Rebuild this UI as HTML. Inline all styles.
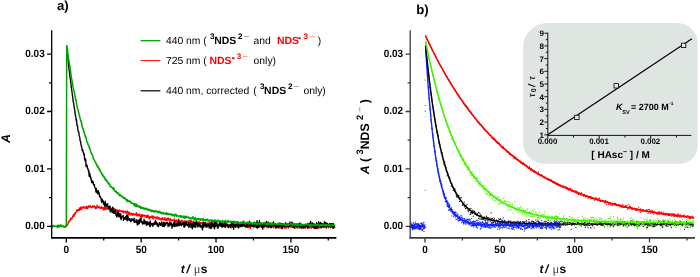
<!DOCTYPE html>
<html lang="en"><head><meta charset="utf-8"><title>Figure</title>
<style>
html,body{margin:0;padding:0;background:#fff;}
svg{display:block;}
text{font-family:"Liberation Sans",Arial,sans-serif;text-rendering:geometricPrecision;}
.b{font-weight:bold;}
.i{font-style:italic;}
.sym{font-family:"Liberation Serif","DejaVu Serif",serif;}
</style></head><body>
<svg width="700" height="277" viewBox="0 0 700 277">
<rect width="700" height="277" fill="#fff"/>
<g id="plot-a">
<path d="M66.3 226.3L66.6 225.5L66.9 225.5L67.2 225.6L67.5 224.7L67.8 224.6L68.1 223.1L68.4 221.4L68.7 222.6L69.0 222.2L69.3 220.7L69.6 220.3L69.9 220.0L70.2 220.5L70.5 219.1L70.8 218.0L71.1 219.4L71.4 218.2L71.7 219.1L72.0 218.1L72.3 218.2L72.6 216.3L72.9 216.8L73.2 215.0L73.5 214.7L73.8 214.6L74.1 216.4L74.4 214.2L74.7 213.3L75.0 212.8L75.3 214.0L75.6 212.6L75.9 212.8L76.2 212.3L76.5 210.2L76.8 211.7L77.1 210.7L77.4 209.6L77.7 210.7L78.0 210.0L78.3 209.6L78.6 209.5L78.9 210.5L79.2 209.2L79.5 207.9L79.8 210.4L80.1 208.0L80.4 208.6L80.7 209.1L81.0 206.6L81.3 207.6L81.6 209.3L81.9 208.0L82.2 207.5L82.5 208.1L82.8 207.2L83.1 207.8L83.4 207.0L83.7 206.3L84.0 208.1L84.3 207.3L84.6 207.9L84.9 207.3L85.2 208.4L85.5 207.8L85.8 207.4L86.1 206.4L86.4 206.1L86.7 208.3L87.0 207.8L87.3 206.5L87.6 208.9L87.9 207.4L88.2 207.0L88.5 205.8L88.8 206.3L89.1 207.2L89.4 207.2L89.7 207.1L90.0 205.4L90.3 207.2L90.6 207.1L90.9 206.5L91.2 206.9L91.4 207.0L91.7 207.8L92.0 206.8L92.3 207.2L92.6 205.7L92.9 206.2L93.2 206.8L93.5 206.2L93.8 207.2L94.1 205.9L94.4 206.9L94.7 206.4L95.0 208.1L95.3 206.6L95.6 208.5L95.9 208.8L96.2 207.3L96.5 207.9L96.8 206.9L97.1 205.0L97.4 207.9L97.7 207.7L98.0 207.0L98.3 206.7L98.6 207.4L98.9 207.5L99.2 206.7L99.5 206.9L99.8 208.3L100.1 207.5L100.4 207.4L100.7 208.4L101.0 207.3L101.3 208.3L101.6 206.7L101.9 207.4L102.2 207.6L102.5 208.2L102.8 207.8L103.1 209.6L103.4 208.8L103.7 207.5L104.0 209.8L104.3 207.1L104.6 209.6L104.9 207.3L105.2 208.8L105.5 207.4L105.8 208.0L106.1 209.6L106.4 207.1L106.7 206.9L107.0 208.4L107.3 208.6L107.6 208.5L107.9 209.3L108.2 207.5L108.5 209.0L108.8 208.7L109.1 209.4L109.4 209.3L109.7 210.0L110.0 207.7L110.3 209.0L110.6 208.1L110.9 209.0L111.2 209.7L111.5 209.4L111.8 209.7L112.1 209.3L112.4 209.7L112.7 209.7L113.0 210.7L113.3 210.3L113.6 208.1L113.9 210.3L114.2 210.7L114.5 209.5L114.8 208.6L115.1 211.3L115.4 210.2L115.7 210.7L116.0 211.8L116.3 209.6L116.6 210.3L116.9 210.3L117.2 211.2L117.5 210.1L117.8 211.1L118.1 210.8L118.4 211.8L118.7 211.9L119.0 209.7L119.3 211.4L119.6 210.8L119.9 211.1L120.2 211.6L120.5 211.7L120.8 210.8L121.1 211.7L121.4 211.6L121.7 211.5L122.0 210.5L122.3 211.1L122.6 211.4L122.9 212.3L123.2 213.2L123.5 211.1L123.8 211.1L124.1 212.2L124.4 211.7L124.7 211.5L125.0 211.5L125.3 211.5L125.6 212.8L125.9 211.1L126.2 213.7L126.5 211.8L126.8 212.2L127.1 211.9L127.4 211.0L127.7 211.5L128.0 213.9L128.3 214.5L128.6 212.2L128.9 214.0L129.2 213.1L129.5 212.4L129.8 214.7L130.1 215.2L130.4 213.1L130.7 213.4L131.0 213.7L131.3 213.5L131.6 214.4L131.9 215.0L132.2 213.8L132.5 214.6L132.8 215.3L133.1 213.4L133.4 214.0L133.7 213.6L134.0 214.9L134.3 214.7L134.6 215.1L134.9 215.0L135.2 214.1L135.5 215.0L135.8 214.0L136.1 214.1L136.4 212.6L136.7 215.8L137.0 213.8L137.3 214.7L137.6 214.7L137.9 216.1L138.2 215.2L138.5 214.2L138.8 215.0L139.1 214.9L139.4 215.3L139.7 214.0L140.0 215.2L140.3 217.2L140.6 215.9L140.9 217.1L141.2 218.4L141.4 215.9L141.7 214.3L142.0 215.5L142.3 216.7L142.6 216.5L142.9 214.7L143.2 215.6L143.5 215.8L143.8 215.9L144.1 215.9L144.4 215.2L144.7 215.5L145.0 215.9L145.3 217.1L145.6 215.7L145.9 216.9L146.2 215.3L146.5 217.5L146.8 216.5L147.1 216.4L147.4 217.7L147.7 215.0L148.0 215.3L148.3 217.1L148.6 216.0L148.9 216.4L149.2 219.2L149.5 216.6L149.8 217.0L150.1 216.9L150.4 218.0L150.7 217.3L151.0 217.3L151.3 216.1L151.6 216.9L151.9 217.3L152.2 215.9L152.5 217.9L152.8 217.8L153.1 219.2L153.4 216.1L153.7 216.7L154.0 216.8L154.3 217.1L154.6 217.6L154.9 217.6L155.2 218.1L155.5 218.1L155.8 217.9L156.1 216.6L156.4 217.5L156.7 218.2L157.0 218.7L157.3 218.8L157.6 216.8L157.9 217.8L158.2 218.3L158.5 218.7L158.8 219.5L159.1 218.6L159.4 217.7L159.7 218.9L160.0 218.8L160.3 218.9L160.6 218.6L160.9 220.2L161.2 219.0L161.5 219.6L161.8 218.1L162.1 219.7L162.4 218.5L162.7 217.6L163.0 219.4L163.3 219.7L163.6 219.0L163.9 219.2L164.2 220.2L164.5 218.9L164.8 217.5L165.1 219.6L165.4 219.6L165.7 220.4L166.0 219.2L166.3 220.7L166.6 220.6L166.9 218.4L167.2 220.5L167.5 218.7L167.8 218.3L168.1 219.5L168.4 219.3L168.7 218.0L169.0 220.0L169.3 220.4L169.6 221.2L169.9 219.9L170.2 218.6L170.5 219.1L170.8 220.9L171.1 220.9L171.4 220.6L171.7 219.9L172.0 220.4L172.3 220.0L172.6 220.0L172.9 220.6L173.2 220.4L173.5 220.2L173.8 220.5L174.1 220.0L174.4 218.8L174.7 220.0L175.0 220.5L175.3 222.1L175.6 220.3L175.9 222.4L176.2 222.0L176.5 219.9L176.8 220.1L177.1 220.9L177.4 222.4L177.7 221.2L178.0 221.5L178.3 220.3L178.6 218.9L178.9 220.8L179.2 221.7L179.5 222.1L179.8 221.1L180.1 221.3L180.4 222.2L180.7 221.1L181.0 222.2L181.3 220.2L181.6 220.3L181.9 220.3L182.2 221.7L182.5 220.9L182.8 221.5L183.1 221.8L183.4 221.7L183.7 222.7L184.0 222.8L184.3 220.8L184.6 221.7L184.9 221.4L185.2 220.7L185.5 223.2L185.8 222.4L186.1 221.5L186.4 221.4L186.7 222.1L187.0 220.8L187.3 221.6L187.6 223.0L187.9 222.7L188.2 221.2L188.5 221.5L188.8 223.7L189.1 220.7L189.4 221.5L189.7 220.8L190.0 222.4L190.3 222.4L190.6 223.2L190.9 219.8L191.1 222.3L191.4 220.7L191.7 222.8L192.0 222.1L192.3 223.8L192.6 222.7L192.9 221.4L193.2 223.5L193.5 221.4L193.8 222.1L194.1 223.4L194.4 222.9L194.7 222.9L195.0 222.6L195.3 223.0L195.6 223.3L195.9 222.9L196.2 223.6L196.5 223.8L196.8 222.7L197.1 221.9L197.4 224.1L197.7 222.7L198.0 223.4L198.3 223.7L198.6 222.0L198.9 223.3L199.2 221.5L199.5 223.6L199.8 222.5L200.1 223.1L200.4 223.6L200.7 222.4L201.0 223.1L201.3 222.5L201.6 223.1L201.9 224.1L202.2 223.2L202.5 223.1L202.8 222.2L203.1 224.0L203.4 223.2L203.7 224.8L204.0 222.6L204.3 224.2L204.6 224.9L204.9 223.3L205.2 222.3L205.5 224.7L205.8 224.3L206.1 224.0L206.4 224.4L206.7 223.1L207.0 224.2L207.3 224.1L207.6 222.9L207.9 224.2L208.2 223.1L208.5 224.4L208.8 224.7L209.1 225.2L209.4 221.9L209.7 223.9L210.0 223.4L210.3 223.7L210.6 223.5L210.9 223.6L211.2 221.9L211.5 224.7L211.8 225.2L212.1 224.7L212.4 225.0L212.7 223.1L213.0 223.1L213.3 224.7L213.6 225.1L213.9 224.2L214.2 222.6L214.5 226.5L214.8 223.4L215.1 224.9L215.4 223.0L215.7 225.0L216.0 224.3L216.3 225.4L216.6 224.9L216.9 222.8L217.2 223.3L217.5 224.5L217.8 224.9L218.1 225.9L218.4 224.5L218.7 224.2L219.0 224.3L219.3 224.3L219.6 225.3L219.9 224.3L220.2 224.3L220.5 223.1L220.8 222.6L221.1 224.5L221.4 225.1L221.7 224.4L222.0 225.0L222.3 225.1L222.6 224.5L222.9 225.4L223.2 223.9L223.5 224.6L223.8 224.3L224.1 224.7L224.4 225.2L224.7 225.5L225.0 224.8L225.3 225.1L225.6 224.4L225.9 224.7L226.2 225.9L226.5 224.6L226.8 226.0L227.1 225.3L227.4 225.0L227.7 226.7L228.0 224.7L228.3 224.7L228.6 225.0L228.9 225.3L229.2 225.2L229.5 225.8L229.8 225.2L230.1 225.4L230.4 224.9L230.7 226.1L231.0 224.8L231.3 224.9L231.6 225.2L231.9 225.4L232.2 224.5L232.5 226.6L232.8 224.7L233.1 224.9L233.4 224.9L233.7 224.8L234.0 225.8L234.3 225.4L234.6 224.6L234.9 224.8L235.2 225.0L235.5 226.6L235.8 224.8L236.1 224.2L236.4 224.4L236.7 225.1L237.0 226.7L237.3 224.5L237.6 225.5L237.9 227.7L238.2 225.0L238.5 226.8L238.8 226.6L239.1 226.0L239.4 224.3L239.7 225.8L240.0 225.2L240.3 223.9L240.6 224.0L240.9 225.6L241.1 225.8L241.4 226.7L241.7 226.2L242.0 225.2L242.3 225.2L242.6 225.5L242.9 224.7L243.2 226.4L243.5 225.7L243.8 225.0L244.1 225.2L244.4 224.7L244.7 225.4L245.0 226.0L245.3 225.4L245.6 226.7L245.9 227.3L246.2 225.3L246.5 225.9L246.8 225.5L247.1 227.4L247.4 226.2L247.7 226.4L248.0 226.7L248.3 228.0L248.6 226.2L248.9 225.1L249.2 225.6L249.5 226.5L249.8 226.0L250.1 225.3L250.4 228.5L250.7 226.1L251.0 225.5L251.3 225.4L251.6 224.5L251.9 225.0L252.2 225.8L252.5 225.8L252.8 225.4L253.1 226.6L253.4 226.1L253.7 225.3L254.0 224.3L254.3 226.3L254.6 226.2L254.9 226.0L255.2 224.9L255.5 226.2L255.8 224.8L256.1 227.1L256.4 226.4L256.7 226.4L257.0 225.5L257.3 225.3L257.6 227.6L257.9 227.1L258.2 225.9L258.5 226.9L258.8 227.7L259.1 225.3L259.4 225.8L259.7 225.8L260.0 226.7L260.3 225.3L260.6 226.5L260.9 225.3L261.2 227.1L261.5 227.1L261.8 226.1L262.1 227.0L262.4 225.7L262.7 226.1L263.0 227.2L263.3 226.3L263.6 226.7L263.9 225.5L264.2 226.9L264.5 226.8L264.8 225.2L265.1 224.3L265.4 224.5L265.7 226.3L266.0 226.2L266.3 225.0L266.6 226.5L266.9 227.3L267.2 226.3L267.5 226.0L267.8 227.2L268.1 227.9L268.4 227.7L268.7 225.8L269.0 227.1L269.3 226.5L269.6 226.2L269.9 225.8L270.2 226.7L270.5 226.0L270.8 227.2L271.1 226.8L271.4 227.4L271.7 225.4L272.0 226.5L272.3 227.1L272.6 226.8L272.9 226.7L273.2 225.8L273.5 227.9L273.8 227.4L274.1 226.8L274.4 224.1L274.7 225.6L275.0 226.6L275.3 225.8L275.6 224.6L275.9 226.7L276.2 226.8L276.5 225.4L276.8 226.0L277.1 225.9L277.4 227.0L277.7 224.7L278.0 224.9L278.3 226.0L278.6 225.9L278.9 228.4L279.2 225.9L279.5 226.7L279.8 226.1L280.1 225.9L280.4 226.8L280.7 228.1L281.0 226.2L281.3 227.2L281.6 226.8L281.9 227.1L282.2 226.9L282.5 228.7L282.8 225.4L283.1 226.3L283.4 225.5L283.7 224.7L284.0 226.5L284.3 228.2L284.6 227.4L284.9 227.7L285.2 227.0L285.5 226.5L285.8 228.4L286.1 226.3L286.4 228.0L286.7 226.3L287.0 226.7L287.3 226.9L287.6 226.6L287.9 227.1L288.2 227.1L288.5 228.1L288.8 226.6L289.1 224.9L289.4 224.8L289.7 225.4L290.0 225.9L290.3 227.2L290.6 225.3L290.9 226.7L291.1 226.7L291.4 226.9L291.7 226.5L292.0 227.0L292.3 226.7L292.6 227.6L292.9 227.0L293.2 224.5L293.5 226.7L293.8 226.8L294.1 226.1L294.4 226.0L294.7 227.7L295.0 226.8L295.3 225.8L295.6 226.4L295.9 226.5L296.2 225.2L296.5 227.3L296.8 226.6L297.1 227.1L297.4 225.3L297.7 228.4L298.0 227.3L298.3 227.1L298.6 226.0L298.9 226.1L299.2 225.4L299.5 228.1L299.8 226.0L300.1 226.9L300.4 227.3L300.7 226.2L301.0 227.5L301.3 228.6L301.6 227.0L301.9 228.0L302.2 227.3L302.5 226.3L302.8 226.4L303.1 225.2L303.4 226.9L303.7 228.1L304.0 227.4L304.3 227.5L304.6 227.8L304.9 226.3L305.2 227.3L305.5 228.5L305.8 226.1L306.1 226.8L306.4 226.4L306.7 226.6L307.0 226.1L307.3 226.7L307.6 225.6L307.9 226.3L308.2 226.3L308.5 226.3L308.8 228.0L309.1 226.9L309.4 227.0L309.7 226.5L310.0 228.0L310.3 225.2L310.6 226.6L310.9 227.8L311.2 228.3L311.5 227.0L311.8 226.8L312.1 227.4L312.4 226.6L312.7 227.3L313.0 226.2L313.3 227.4L313.6 226.8L313.9 225.8L314.2 224.4L314.5 227.7L314.8 227.2L315.1 227.5L315.4 226.0L315.7 227.8L316.0 227.2L316.3 226.8L316.6 227.7L316.9 227.6L317.2 227.2L317.5 228.7L317.8 228.1L318.1 227.1L318.4 226.6L318.7 226.9L319.0 228.4L319.3 227.2L319.6 226.0L319.9 226.3L320.2 226.8L320.5 227.6L320.8 226.2L321.1 227.3L321.4 227.9L321.7 227.5L322.0 225.5L322.3 226.6L322.6 225.7L322.9 227.2L323.2 225.9L323.5 227.3L323.8 226.9L324.1 224.5L324.4 226.1L324.7 227.3L325.0 226.9L325.3 226.5L325.6 225.7L325.9 227.3L326.2 228.4L326.5 227.1L326.8 226.8L327.1 226.7L327.4 225.6L327.7 226.5L328.0 226.1L328.3 227.8L328.6 226.0L328.9 224.9L329.2 226.1L329.5 226.6L329.8 226.7L330.1 225.2L330.4 227.7L330.7 226.9L331.0 226.4L331.3 226.2L331.6 227.2L331.9 226.6L332.2 227.1L332.5 226.7L332.8 227.0L333.1 227.9L333.4 226.9L333.7 226.1L334.0 227.7L334.3 227.1L334.6 226.3L334.9 227.8" fill="none" stroke="#ff0000" stroke-width="1.25" stroke-linejoin="round"/>
<path d="M66.9 49.6L67.2 52.6L67.5 55.1L67.8 57.7L68.1 60.5L68.4 63.5L68.7 65.9L69.0 68.6L69.3 71.2L69.6 73.3L69.9 76.6L70.2 78.2L70.5 81.0L70.8 82.8L71.1 85.5L71.4 88.2L71.7 90.0L72.0 92.0L72.3 94.5L72.6 96.3L72.9 99.0L73.2 102.0L73.5 102.2L73.8 104.3L74.1 106.6L74.4 108.6L74.7 109.8L75.0 112.7L75.3 114.8L75.6 116.2L75.9 116.9L76.2 120.7L76.5 119.3L76.8 123.5L77.1 125.6L77.4 125.1L77.7 128.0L78.0 130.7L78.3 131.4L78.6 131.6L78.9 132.8L79.2 136.0L79.5 136.5L79.8 137.6L80.1 140.6L80.4 140.8L80.7 142.6L81.0 144.6L81.3 145.9L81.6 146.5L81.9 147.8L82.2 150.6L82.5 150.9L82.8 150.0L83.1 152.4L83.4 152.6L83.7 153.3L84.0 155.3L84.3 153.9L84.6 159.7L84.9 158.3L85.2 161.1L85.5 158.9L85.8 160.1L86.1 166.6L86.4 166.1L86.7 164.7L87.0 165.4L87.3 166.5L87.6 168.6L87.9 168.8L88.2 169.4L88.5 171.3L88.8 170.6L89.1 176.3L89.4 172.9L89.7 176.2L90.0 174.0L90.3 176.6L90.6 178.4L90.9 177.3L91.2 180.0L91.4 180.7L91.7 182.5L92.0 180.9L92.3 180.8L92.6 180.8L92.9 183.2L93.2 182.1L93.5 184.3L93.8 185.1L94.1 184.8L94.4 184.7L94.7 187.4L95.0 187.9L95.3 188.4L95.6 188.6L95.9 192.0L96.2 188.4L96.5 191.1L96.8 190.4L97.1 192.9L97.4 191.6L97.7 192.1L98.0 193.9L98.3 190.7L98.6 193.7L98.9 192.1L99.2 193.8L99.5 196.7L99.8 196.8L100.1 196.1L100.4 197.1L100.7 197.5L101.0 198.5L101.3 201.2L101.6 199.3L101.9 202.7L102.2 199.2L102.5 201.3L102.8 201.7L103.1 201.3L103.4 201.0L103.7 203.9L104.0 204.8L104.3 204.1L104.6 206.0L104.9 204.7L105.2 201.2L105.5 205.5L105.8 203.3L106.1 206.7L106.4 204.5L106.7 205.8L107.0 205.7L107.3 205.1L107.6 203.6L107.9 206.3L108.2 206.7L108.5 208.6L108.8 206.6L109.1 208.1L109.4 206.8L109.7 208.4L110.0 206.0L110.3 211.8L110.6 209.6L110.9 208.1L111.2 210.2L111.5 211.1L111.8 210.5L112.1 212.4L112.4 210.4L112.7 207.2L113.0 209.4L113.3 213.0L113.6 212.9L113.9 213.0L114.2 210.5L114.5 213.4L114.8 213.4L115.1 211.3L115.4 210.2L115.7 213.6L116.0 214.9L116.3 215.7L116.6 214.6L116.9 217.1L117.2 212.9L117.5 215.1L117.8 213.6L118.1 211.7L118.4 212.9L118.7 216.6L119.0 213.7L119.3 213.5L119.6 216.5L119.9 216.9L120.2 215.8L120.5 218.2L120.8 213.8L121.1 219.7L121.4 217.9L121.7 216.8L122.0 216.9L122.3 216.4L122.6 216.4L122.9 217.3L123.2 215.4L123.5 220.4L123.8 217.4L124.1 218.6L124.4 217.4L124.7 217.4L125.0 219.2L125.3 218.9L125.6 216.9L125.9 217.7L126.2 219.3L126.5 215.4L126.8 215.1L127.1 220.8L127.4 218.3L127.7 215.1L128.0 216.6L128.3 218.7L128.6 219.5L128.9 220.1L129.2 219.7L129.5 220.3L129.8 218.4L130.1 220.2L130.4 221.0L130.7 221.6L131.0 220.0L131.3 221.3L131.6 220.3L131.9 218.6L132.2 219.7L132.5 219.6L132.8 219.9L133.1 220.3L133.4 220.7L133.7 221.1L134.0 218.4L134.3 222.4L134.6 218.8L134.9 220.9L135.2 222.1L135.5 221.8L135.8 222.1L136.1 220.9L136.4 222.3L136.7 219.6L137.0 222.5L137.3 224.8L137.6 222.6L137.9 224.5L138.2 221.7L138.5 220.1L138.8 220.8L139.1 223.8L139.4 223.0L139.7 219.2L140.0 221.5L140.3 222.0L140.6 220.5L140.9 218.4L141.2 220.2L141.4 222.0L141.7 221.7L142.0 221.4L142.3 223.2L142.6 224.0L142.9 222.3L143.2 223.9L143.5 222.6L143.8 222.4L144.1 219.1L144.4 223.9L144.7 222.9L145.0 223.0L145.3 222.1L145.6 221.2L145.9 223.6L146.2 224.1L146.5 225.4L146.8 224.3L147.1 221.4L147.4 222.9L147.7 224.6L148.0 223.6L148.3 223.1L148.6 222.4L148.9 224.1L149.2 223.6L149.5 226.0L149.8 225.0L150.1 220.9L150.4 226.6L150.7 223.9L151.0 223.1L151.3 224.0L151.6 224.7L151.9 223.6L152.2 223.5L152.5 223.7L152.8 226.4L153.1 223.8L153.4 224.9L153.7 224.5L154.0 223.3L154.3 222.7L154.6 222.4L154.9 224.5L155.2 222.4L155.5 220.3L155.8 222.1L156.1 221.8L156.4 224.1L156.7 224.1L157.0 222.7L157.3 225.9L157.6 223.6L157.9 224.7L158.2 224.5L158.5 226.6L158.8 225.3L159.1 224.1L159.4 222.7L159.7 222.6L160.0 224.2L160.3 224.4L160.6 225.4L160.9 223.5L161.2 224.5L161.5 223.3L161.8 221.6L162.1 224.2L162.4 226.4L162.7 225.5L163.0 226.4L163.3 226.0L163.6 222.3L163.9 223.9L164.2 226.6L164.5 223.3L164.8 222.4L165.1 224.9L165.4 225.4L165.7 224.9L166.0 224.0L166.3 223.4L166.6 222.6L166.9 222.6L167.2 222.7L167.5 222.4L167.8 223.5L168.1 226.7L168.4 224.7L168.7 224.0L169.0 225.1L169.3 223.1L169.6 225.1L169.9 225.9L170.2 222.4L170.5 223.6L170.8 224.2L171.1 223.2L171.4 223.0L171.7 224.1L172.0 228.3L172.3 225.6L172.6 225.3L172.9 226.1L173.2 224.3L173.5 222.9L173.8 225.4L174.1 226.3L174.4 221.6L174.7 225.3L175.0 226.5L175.3 224.3L175.6 224.1L175.9 225.8L176.2 223.5L176.5 225.4L176.8 226.1L177.1 224.5L177.4 223.6L177.7 225.7L178.0 224.3L178.3 224.9L178.6 220.5L178.9 225.8L179.2 222.7L179.5 224.9L179.8 225.0L180.1 222.6L180.4 223.5L180.7 222.9L181.0 224.3L181.3 225.7L181.6 225.6L181.9 224.1L182.2 224.0L182.5 222.8L182.8 224.2L183.1 223.3L183.4 222.6L183.7 224.6L184.0 227.1L184.3 226.6L184.6 227.0L184.9 222.5L185.2 226.1L185.5 223.0L185.8 224.0L186.1 222.3L186.4 223.4L186.7 225.1L187.0 225.2L187.3 224.8L187.6 224.7L187.9 225.7L188.2 225.0L188.5 222.5L188.8 227.5L189.1 224.2L189.4 226.3L189.7 224.7L190.0 223.7L190.3 225.0L190.6 223.8L190.9 227.3L191.1 223.3L191.4 225.9L191.7 224.0L192.0 224.7L192.3 228.8L192.6 226.1L192.9 224.6L193.2 222.7L193.5 224.6L193.8 224.6L194.1 227.1L194.4 222.9L194.7 222.3L195.0 225.0L195.3 225.3L195.6 227.4L195.9 223.7L196.2 221.0L196.5 223.9L196.8 223.1L197.1 224.2L197.4 226.5L197.7 223.0L198.0 226.9L198.3 225.3L198.6 224.6L198.9 223.7L199.2 224.4L199.5 223.9L199.8 226.2L200.1 227.0L200.4 224.9L200.7 226.1L201.0 227.0L201.3 226.9L201.6 225.8L201.9 227.8L202.2 227.1L202.5 229.9L202.8 224.8L203.1 224.4L203.4 222.1L203.7 227.3L204.0 226.1L204.3 223.7L204.6 225.4L204.9 225.5L205.2 222.5L205.5 225.6L205.8 226.8L206.1 227.0L206.4 224.6L206.7 224.6L207.0 227.1L207.3 226.5L207.6 224.3L207.9 224.2L208.2 226.0L208.5 224.1L208.8 224.2L209.1 227.7L209.4 225.5L209.7 224.5L210.0 225.9L210.3 228.3L210.6 225.5L210.9 224.0L211.2 222.7L211.5 228.4L211.8 221.2L212.1 226.8L212.4 223.7L212.7 223.3L213.0 223.6L213.3 224.9L213.6 226.8L213.9 224.2L214.2 226.2L214.5 228.9L214.8 220.9L215.1 223.0L215.4 222.4L215.7 226.5L216.0 222.9L216.3 222.7L216.6 222.8L216.9 225.1L217.2 226.9L217.5 225.4L217.8 228.4L218.1 227.6L218.4 225.0L218.7 226.6L219.0 225.4L219.3 225.3L219.6 222.2L219.9 223.2L220.2 225.2L220.5 221.5L220.8 226.3L221.1 225.6L221.4 223.8L221.7 227.0L222.0 225.5L222.3 227.1L222.6 224.9L222.9 222.7L223.2 226.2L223.5 224.8L223.8 226.5L224.1 226.8L224.4 227.0L224.7 222.9L225.0 221.6L225.3 224.4L225.6 227.3L225.9 224.1L226.2 225.6L226.5 223.9L226.8 224.7L227.1 224.7L227.4 224.2L227.7 226.0L228.0 225.7L228.3 227.7L228.6 225.8L228.9 227.2L229.2 225.3L229.5 226.6L229.8 225.0L230.1 224.5L230.4 227.2L230.7 226.3L231.0 227.9L231.3 224.0L231.6 222.6L231.9 223.9L232.2 225.7L232.5 222.9L232.8 227.4L233.1 222.9L233.4 226.1L233.7 229.3L234.0 221.2L234.3 222.8L234.6 226.7L234.9 224.9L235.2 225.5L235.5 225.0L235.8 227.3L236.1 226.2L236.4 224.4L236.7 224.8L237.0 221.6L237.3 225.0L237.6 221.6L237.9 226.2L238.2 224.8L238.5 228.0L238.8 227.0L239.1 223.2L239.4 226.5L239.7 224.3L240.0 225.2L240.3 226.7L240.6 225.7L240.9 225.9L241.1 225.9L241.4 224.0L241.7 224.2L242.0 226.0L242.3 226.5L242.6 224.7L242.9 225.3L243.2 223.6L243.5 221.2L243.8 223.9L244.1 225.2L244.4 225.4L244.7 226.4L245.0 226.5L245.3 226.6L245.6 225.7L245.9 225.8L246.2 224.0L246.5 225.7L246.8 225.4L247.1 227.0L247.4 222.7L247.7 224.4L248.0 222.5L248.3 224.0L248.6 222.9L248.9 225.5L249.2 224.1L249.5 221.1L249.8 227.0L250.1 223.4L250.4 222.6L250.7 224.5L251.0 224.0L251.3 223.2L251.6 226.1L251.9 224.5L252.2 226.5L252.5 226.2L252.8 226.1L253.1 225.4L253.4 224.9L253.7 224.5L254.0 227.3L254.3 222.1L254.6 223.4L254.9 224.0L255.2 225.7L255.5 225.3L255.8 224.3L256.1 224.5L256.4 227.7L256.7 224.0L257.0 220.7L257.3 228.0L257.6 223.6L257.9 224.6L258.2 225.5L258.5 223.0L258.8 227.0L259.1 224.9L259.4 220.7L259.7 225.4L260.0 225.8L260.3 225.0L260.6 225.8L260.9 222.8L261.2 226.5L261.5 223.8L261.8 227.1L262.1 224.1L262.4 225.3L262.7 229.1L263.0 225.2L263.3 226.8L263.6 225.8L263.9 222.8L264.2 226.9L264.5 226.8L264.8 222.9L265.1 225.0L265.4 222.8L265.7 224.7L266.0 226.5L266.3 225.3L266.6 221.4L266.9 223.7L267.2 225.1L267.5 225.1L267.8 225.3L268.1 226.0L268.4 222.2L268.7 225.1L269.0 226.9L269.3 225.9L269.6 224.0L269.9 224.2L270.2 225.4L270.5 227.2L270.8 225.1L271.1 227.7L271.4 227.1L271.7 223.9L272.0 225.9L272.3 224.6L272.6 223.3L272.9 224.2L273.2 225.1L273.5 221.9L273.8 224.1L274.1 225.7L274.4 224.0L274.7 224.5L275.0 226.5L275.3 225.0L275.6 225.4L275.9 228.2L276.2 225.7L276.5 225.6L276.8 225.8L277.1 227.7L277.4 225.7L277.7 225.2L278.0 225.0L278.3 226.9L278.6 224.2L278.9 227.0L279.2 225.5L279.5 223.1L279.8 226.2L280.1 225.9L280.4 223.5L280.7 225.7L281.0 225.6L281.3 224.5L281.6 223.5L281.9 228.5L282.2 226.4L282.5 226.7L282.8 226.8L283.1 226.5L283.4 226.4L283.7 224.7L284.0 226.5L284.3 225.0L284.6 224.5L284.9 226.3L285.2 225.0L285.5 222.6L285.8 224.7L286.1 226.1L286.4 225.3L286.7 226.6L287.0 224.7L287.3 223.8L287.6 226.4L287.9 225.5L288.2 223.5L288.5 225.9L288.8 224.9L289.1 226.7L289.4 226.4L289.7 225.9L290.0 221.9L290.3 225.8L290.6 225.9L290.9 226.0L291.1 225.4L291.4 224.2L291.7 224.9L292.0 222.1L292.3 224.8L292.6 223.0L292.9 224.7L293.2 224.2L293.5 227.3L293.8 225.3L294.1 225.3L294.4 225.5L294.7 228.4L295.0 223.8L295.3 225.7L295.6 225.8L295.9 225.5L296.2 225.5L296.5 224.5L296.8 227.0L297.1 226.5L297.4 224.7L297.7 224.9L298.0 225.7L298.3 226.0L298.6 226.4L298.9 225.2L299.2 223.4L299.5 226.7L299.8 222.9L300.1 223.9L300.4 225.8L300.7 224.0L301.0 227.3L301.3 227.7L301.6 227.1L301.9 225.8L302.2 225.6L302.5 225.9L302.8 225.0L303.1 228.3L303.4 224.4L303.7 227.3L304.0 226.1L304.3 225.8L304.6 226.9L304.9 227.2L305.2 226.7L305.5 225.2L305.8 224.3L306.1 224.3L306.4 226.6L306.7 226.3L307.0 226.5L307.3 224.5L307.6 228.2L307.9 223.3L308.2 225.9L308.5 227.5L308.8 224.6L309.1 223.6L309.4 224.6L309.7 223.6L310.0 225.0L310.3 223.3L310.6 221.4L310.9 225.3L311.2 223.0L311.5 224.9L311.8 225.0L312.1 226.5L312.4 225.6L312.7 222.8L313.0 227.1L313.3 224.2L313.6 224.1L313.9 224.7L314.2 228.4L314.5 225.3L314.8 224.2L315.1 226.3L315.4 225.0L315.7 228.7L316.0 224.1L316.3 226.1L316.6 222.6L316.9 227.9L317.2 224.1L317.5 225.5L317.8 223.9L318.1 226.5L318.4 226.1L318.7 221.8L319.0 226.4L319.3 226.2L319.6 226.0L319.9 226.7L320.2 223.4L320.5 222.6L320.8 226.2L321.1 227.7L321.4 223.4L321.7 223.5L322.0 223.9L322.3 223.4L322.6 226.4L322.9 225.4L323.2 227.2L323.5 227.3L323.8 223.7L324.1 226.2L324.4 221.7L324.7 225.0L325.0 226.1L325.3 224.0L325.6 222.5L325.9 224.4L326.2 227.0L326.5 224.6L326.8 223.1L327.1 225.9L327.4 226.3L327.7 223.6L328.0 224.9L328.3 226.8L328.6 225.7L328.9 226.3L329.2 224.7L329.5 225.0L329.8 223.4L330.1 224.1L330.4 227.5L330.7 224.5L331.0 223.8L331.3 224.5L331.6 223.6L331.9 226.0L332.2 226.6L332.5 223.8L332.8 226.7L333.1 228.4L333.4 223.6L333.7 226.2L334.0 225.6L334.3 227.2L334.6 227.1L334.9 226.9" fill="none" stroke="#000" stroke-width="1.35" stroke-linejoin="round"/>
<path d="M51.3 226.2L51.6 225.5L51.9 226.4L52.2 226.5L52.5 227.1L52.8 226.6L53.1 225.5L53.4 226.1L53.7 225.9L54.0 225.9L54.3 226.3L54.6 226.4L54.9 226.2L55.2 225.9L55.5 226.0L55.8 226.0L56.1 226.2L56.4 226.7L56.7 226.5L57.0 226.8L57.3 225.7L57.6 227.5L57.9 226.4L58.2 224.9L58.5 226.5L58.8 227.0L59.1 226.3L59.4 225.6L59.7 226.4L60.0 225.9L60.3 226.2L60.6 226.5L60.9 224.5L61.2 226.3L61.5 226.6L61.8 226.6L62.1 226.1L62.4 226.1L62.7 225.9L63.0 226.2L63.3 227.1L63.6 226.0L63.9 226.5L64.2 226.5L64.5 227.2L64.8 226.6L65.1 226.7L65.4 226.3L65.7 227.1L66.0 226.3L66.3 226.2L66.7 46.1L66.9 45.6L67.2 47.8L67.5 50.2L67.8 53.6L68.1 54.7L68.4 57.7L68.7 59.7L69.0 61.0L69.3 63.6L69.6 65.0L69.9 65.8L70.2 69.0L70.5 70.9L70.8 73.6L71.1 75.3L71.4 77.4L71.7 78.8L72.0 80.8L72.3 82.3L72.6 83.8L72.9 85.8L73.2 87.7L73.5 89.2L73.8 89.9L74.1 91.6L74.4 92.6L74.7 94.1L75.0 96.3L75.3 97.3L75.6 99.8L75.9 99.3L76.2 101.2L76.5 103.3L76.8 105.2L77.1 105.7L77.4 108.2L77.7 108.9L78.0 109.4L78.3 111.0L78.6 112.5L78.9 113.0L79.2 115.2L79.5 115.7L79.8 117.3L80.1 118.6L80.4 119.1L80.7 121.0L81.0 120.6L81.3 122.9L81.6 122.7L81.9 125.4L82.2 125.5L82.5 127.5L82.8 128.6L83.1 128.9L83.4 129.6L83.7 131.6L84.0 131.3L84.3 133.3L84.6 133.8L84.9 134.6L85.2 135.4L85.5 137.6L85.8 136.7L86.1 138.2L86.4 139.6L86.7 140.8L87.0 142.0L87.3 142.7L87.6 142.6L87.9 143.9L88.2 145.1L88.5 145.6L88.8 145.3L89.1 147.1L89.4 148.1L89.7 147.8L90.0 149.1L90.3 150.1L90.6 151.2L90.9 152.4L91.2 152.9L91.4 153.3L91.7 153.9L92.0 154.3L92.3 154.9L92.6 155.8L92.9 156.5L93.2 157.8L93.5 159.1L93.8 158.9L94.1 159.8L94.4 160.2L94.7 160.7L95.0 161.8L95.3 162.4L95.6 162.5L95.9 163.0L96.2 164.0L96.5 164.0L96.8 165.0L97.1 166.0L97.4 166.0L97.7 165.6L98.0 167.5L98.3 167.1L98.6 167.5L98.9 168.0L99.2 169.8L99.5 168.8L99.8 170.3L100.1 171.0L100.4 171.5L100.7 171.6L101.0 172.4L101.3 173.0L101.6 172.8L101.9 174.3L102.2 174.9L102.5 174.4L102.8 175.0L103.1 175.2L103.4 176.8L103.7 176.1L104.0 176.9L104.3 176.7L104.6 178.7L104.9 178.3L105.2 179.0L105.5 180.1L105.8 180.1L106.1 179.5L106.4 180.8L106.7 181.3L107.0 180.9L107.3 181.2L107.6 181.6L107.9 182.9L108.2 182.9L108.5 182.7L108.8 184.0L109.1 184.4L109.4 184.0L109.7 183.9L110.0 185.7L110.3 186.8L110.6 186.6L110.9 186.7L111.2 186.6L111.5 186.5L111.8 187.2L112.1 187.9L112.4 187.8L112.7 188.7L113.0 188.5L113.3 189.1L113.6 187.7L113.9 189.0L114.2 190.2L114.5 190.6L114.8 190.6L115.1 191.5L115.4 191.3L115.7 191.6L116.0 191.1L116.3 192.0L116.6 192.5L116.9 193.1L117.2 193.2L117.5 192.9L117.8 193.3L118.1 192.9L118.4 194.0L118.7 193.4L119.0 194.1L119.3 194.5L119.6 195.8L119.9 195.6L120.2 194.8L120.5 194.8L120.8 195.6L121.1 195.6L121.4 196.4L121.7 196.6L122.0 197.0L122.3 196.4L122.6 196.9L122.9 197.4L123.2 197.7L123.5 197.5L123.8 197.8L124.1 198.6L124.4 197.5L124.7 198.5L125.0 198.8L125.3 198.3L125.6 198.7L125.9 199.5L126.2 199.3L126.5 200.4L126.8 200.3L127.1 201.4L127.4 199.7L127.7 201.5L128.0 200.4L128.3 201.4L128.6 201.6L128.9 201.4L129.2 201.3L129.5 201.3L129.8 200.9L130.1 201.8L130.4 201.7L130.7 202.7L131.0 202.2L131.3 202.6L131.6 203.1L131.9 203.1L132.2 203.2L132.5 203.3L132.8 203.3L133.1 204.0L133.4 204.2L133.7 203.6L134.0 205.0L134.3 204.6L134.6 203.7L134.9 206.0L135.2 205.1L135.5 204.6L135.8 205.9L136.1 203.9L136.4 206.7L136.7 204.7L137.0 204.8L137.3 205.3L137.6 206.0L137.9 205.9L138.2 206.6L138.5 205.9L138.8 207.0L139.1 206.7L139.4 206.2L139.7 207.4L140.0 207.1L140.3 207.0L140.6 207.9L140.9 206.7L141.2 207.3L141.4 208.3L141.7 207.7L142.0 208.2L142.3 208.2L142.6 208.0L142.9 208.5L143.2 207.7L143.5 208.7L143.8 207.9L144.1 208.6L144.4 208.2L144.7 209.0L145.0 209.1L145.3 209.5L145.6 208.7L145.9 208.6L146.2 208.1L146.5 208.6L146.8 209.3L147.1 209.6L147.4 209.4L147.7 209.7L148.0 209.0L148.3 209.3L148.6 210.3L148.9 210.3L149.2 209.4L149.5 210.0L149.8 210.3L150.1 209.7L150.4 210.6L150.7 210.6L151.0 210.7L151.3 211.6L151.6 210.2L151.9 211.3L152.2 211.1L152.5 211.2L152.8 210.5L153.1 211.0L153.4 211.0L153.7 212.0L154.0 211.2L154.3 212.0L154.6 211.1L154.9 211.1L155.2 211.4L155.5 210.4L155.8 211.2L156.1 211.3L156.4 211.6L156.7 211.8L157.0 211.2L157.3 211.2L157.6 212.5L157.9 211.4L158.2 211.7L158.5 211.5L158.8 211.8L159.1 212.8L159.4 212.8L159.7 211.3L160.0 212.2L160.3 213.1L160.6 212.2L160.9 212.7L161.2 213.5L161.5 213.8L161.8 213.5L162.1 212.6L162.4 212.8L162.7 213.0L163.0 212.7L163.3 212.6L163.6 214.1L163.9 213.2L164.2 213.5L164.5 213.8L164.8 213.5L165.1 213.4L165.4 213.5L165.7 214.2L166.0 213.7L166.3 212.5L166.6 214.2L166.9 214.5L167.2 213.6L167.5 213.5L167.8 213.6L168.1 214.5L168.4 213.5L168.7 214.5L169.0 214.7L169.3 214.5L169.6 214.3L169.9 213.9L170.2 214.0L170.5 214.4L170.8 214.0L171.1 214.5L171.4 214.1L171.7 215.4L172.0 215.5L172.3 214.4L172.6 215.6L172.9 215.1L173.2 215.0L173.5 215.3L173.8 215.3L174.1 214.4L174.4 216.5L174.7 214.8L175.0 214.2L175.3 215.4L175.6 215.5L175.9 215.1L176.2 214.6L176.5 216.2L176.8 215.6L177.1 215.8L177.4 215.5L177.7 215.8L178.0 215.6L178.3 216.2L178.6 216.0L178.9 216.4L179.2 216.5L179.5 216.3L179.8 216.3L180.1 216.9L180.4 215.6L180.7 216.5L181.0 217.2L181.3 216.0L181.6 217.0L181.9 216.4L182.2 216.7L182.5 216.6L182.8 216.7L183.1 217.2L183.4 216.9L183.7 215.9L184.0 218.2L184.3 217.1L184.6 216.9L184.9 217.7L185.2 218.0L185.5 216.2L185.8 217.5L186.1 216.3L186.4 217.2L186.7 217.5L187.0 217.3L187.3 217.3L187.6 217.0L187.9 217.5L188.2 217.7L188.5 217.7L188.8 217.1L189.1 217.5L189.4 218.5L189.7 218.3L190.0 217.9L190.3 218.4L190.6 218.3L190.9 218.7L191.1 218.3L191.4 218.0L191.7 217.8L192.0 218.3L192.3 217.3L192.6 218.5L192.9 216.8L193.2 218.0L193.5 218.3L193.8 218.9L194.1 220.1L194.4 218.8L194.7 218.6L195.0 217.8L195.3 219.5L195.6 217.9L195.9 219.0L196.2 218.5L196.5 220.3L196.8 218.9L197.1 219.2L197.4 218.7L197.7 219.1L198.0 219.7L198.3 218.7L198.6 218.9L198.9 219.0L199.2 218.8L199.5 218.8L199.8 219.4L200.1 220.1L200.4 220.2L200.7 218.8L201.0 219.1L201.3 219.5L201.6 219.8L201.9 219.6L202.2 219.6L202.5 219.8L202.8 220.1L203.1 218.6L203.4 219.7L203.7 220.1L204.0 220.5L204.3 220.2L204.6 219.5L204.9 219.5L205.2 220.1L205.5 220.0L205.8 220.2L206.1 220.6L206.4 219.4L206.7 219.9L207.0 218.9L207.3 220.6L207.6 220.3L207.9 219.8L208.2 220.4L208.5 221.0L208.8 220.8L209.1 220.3L209.4 220.2L209.7 220.5L210.0 219.9L210.3 220.0L210.6 220.3L210.9 220.5L211.2 220.7L211.5 220.3L211.8 220.1L212.1 220.6L212.4 220.4L212.7 220.9L213.0 221.5L213.3 221.3L213.6 220.4L213.9 220.6L214.2 220.0L214.5 220.8L214.8 220.4L215.1 220.2L215.4 220.4L215.7 221.3L216.0 221.1L216.3 220.9L216.6 221.5L216.9 220.8L217.2 220.6L217.5 221.4L217.8 220.1L218.1 221.3L218.4 221.3L218.7 221.3L219.0 221.6L219.3 221.0L219.6 221.3L219.9 220.4L220.2 221.0L220.5 221.1L220.8 221.5L221.1 222.1L221.4 221.5L221.7 221.9L222.0 221.0L222.3 221.5L222.6 220.6L222.9 221.2L223.2 221.1L223.5 221.5L223.8 221.5L224.1 221.3L224.4 221.2L224.7 222.0L225.0 221.4L225.3 220.4L225.6 221.8L225.9 221.9L226.2 222.1L226.5 222.5L226.8 221.2L227.1 221.8L227.4 221.7L227.7 220.9L228.0 220.6L228.3 222.4L228.6 221.4L228.9 221.6L229.2 221.8L229.5 221.7L229.8 222.0L230.1 221.2L230.4 221.7L230.7 221.9L231.0 221.4L231.3 221.6L231.6 221.9L231.9 222.0L232.2 221.3L232.5 221.9L232.8 222.3L233.1 222.7L233.4 222.4L233.7 222.8L234.0 222.2L234.3 222.2L234.6 223.4L234.9 222.3L235.2 222.0L235.5 222.3L235.8 222.9L236.1 221.8L236.4 222.8L236.7 223.1L237.0 223.0L237.3 222.5L237.6 222.0L237.9 221.9L238.2 222.4L238.5 223.2L238.8 222.9L239.1 223.0L239.4 222.7L239.7 223.5L240.0 222.6L240.3 222.3L240.6 222.7L240.9 222.4L241.1 223.2L241.4 223.5L241.7 223.1L242.0 222.1L242.3 222.2L242.6 223.0L242.9 222.2L243.2 223.0L243.5 222.0L243.8 222.6L244.1 223.1L244.4 222.5L244.7 223.3L245.0 223.4L245.3 223.7L245.6 222.8L245.9 223.0L246.2 223.0L246.5 223.2L246.8 222.2L247.1 223.2L247.4 223.4L247.7 222.4L248.0 222.3L248.3 222.9L248.6 224.0L248.9 223.4L249.2 222.8L249.5 223.1L249.8 222.3L250.1 223.8L250.4 222.8L250.7 223.5L251.0 222.5L251.3 223.2L251.6 222.7L251.9 223.6L252.2 224.0L252.5 223.8L252.8 223.6L253.1 223.8L253.4 222.7L253.7 222.6L254.0 223.2L254.3 223.9L254.6 223.4L254.9 223.7L255.2 222.6L255.5 223.2L255.8 223.1L256.1 223.6L256.4 224.4L256.7 223.8L257.0 224.0L257.3 223.3L257.6 223.4L257.9 223.9L258.2 223.7L258.5 222.7L258.8 224.0L259.1 224.0L259.4 223.6L259.7 223.9L260.0 223.8L260.3 223.3L260.6 222.7L260.9 224.5L261.2 223.6L261.5 223.6L261.8 223.7L262.1 223.7L262.4 223.8L262.7 223.1L263.0 223.9L263.3 223.7L263.6 223.7L263.9 223.6L264.2 223.8L264.5 223.2L264.8 223.7L265.1 223.6L265.4 223.8L265.7 224.3L266.0 224.2L266.3 224.3L266.6 223.7L266.9 224.2L267.2 224.4L267.5 223.7L267.8 223.6L268.1 224.8L268.4 223.0L268.7 223.8L269.0 223.9L269.3 223.3L269.6 223.9L269.9 224.2L270.2 222.8L270.5 224.5L270.8 224.0L271.1 223.5L271.4 224.5L271.7 224.0L272.0 223.8L272.3 222.7L272.6 224.4L272.9 224.0L273.2 223.7L273.5 224.0L273.8 224.6L274.1 223.8L274.4 224.0L274.7 223.8L275.0 223.5L275.3 223.5L275.6 223.9L275.9 223.9L276.2 224.7L276.5 224.2L276.8 224.0L277.1 224.3L277.4 224.1L277.7 224.6L278.0 223.4L278.3 223.0L278.6 224.4L278.9 224.0L279.2 224.3L279.5 223.5L279.8 224.0L280.1 224.2L280.4 224.3L280.7 224.2L281.0 224.7L281.3 223.9L281.6 224.6L281.9 224.0L282.2 224.2L282.5 223.7L282.8 224.3L283.1 223.8L283.4 224.8L283.7 224.0L284.0 224.4L284.3 224.2L284.6 224.3L284.9 223.8L285.2 225.4L285.5 224.2L285.8 225.1L286.1 223.7L286.4 225.4L286.7 224.9L287.0 225.2L287.3 223.5L287.6 225.1L287.9 224.3L288.2 224.7L288.5 225.3L288.8 224.6L289.1 224.1L289.4 224.5L289.7 224.0L290.0 224.6L290.3 224.4L290.6 224.7L290.9 224.3L291.1 223.5L291.4 224.3L291.7 224.4L292.0 224.8L292.3 224.9L292.6 223.7L292.9 225.1L293.2 225.0L293.5 224.6L293.8 224.7L294.1 223.5L294.4 225.8L294.7 224.4L295.0 224.2L295.3 225.1L295.6 224.9L295.9 224.3L296.2 223.7L296.5 225.1L296.8 225.4L297.1 224.1L297.4 223.8L297.7 224.8L298.0 225.8L298.3 223.9L298.6 224.7L298.9 224.0L299.2 224.7L299.5 224.8L299.8 224.9L300.1 223.9L300.4 223.9L300.7 225.8L301.0 225.1L301.3 223.7L301.6 224.9L301.9 225.4L302.2 224.7L302.5 224.7L302.8 224.7L303.1 224.9L303.4 224.9L303.7 224.9L304.0 224.5L304.3 225.1L304.6 224.9L304.9 224.8L305.2 224.1L305.5 224.5L305.8 224.8L306.1 224.5L306.4 224.5L306.7 224.2L307.0 224.5L307.3 223.8L307.6 224.1L307.9 224.8L308.2 225.0L308.5 224.3L308.8 224.5L309.1 224.8L309.4 225.6L309.7 225.8L310.0 224.6L310.3 224.4L310.6 224.4L310.9 225.5L311.2 224.3L311.5 225.1L311.8 224.6L312.1 224.6L312.4 225.3L312.7 225.2L313.0 225.9L313.3 225.3L313.6 225.8L313.9 224.6L314.2 224.8L314.5 224.4L314.8 224.7L315.1 225.2L315.4 224.7L315.7 225.1L316.0 224.6L316.3 224.7L316.6 225.4L316.9 224.9L317.2 224.9L317.5 225.1L317.8 224.5L318.1 224.0L318.4 225.1L318.7 225.1L319.0 226.1L319.3 225.0L319.6 225.2L319.9 226.1L320.2 224.8L320.5 224.7L320.8 225.3L321.1 225.2L321.4 225.5L321.7 224.6L322.0 225.8L322.3 225.1L322.6 224.0L322.9 225.0L323.2 224.8L323.5 225.1L323.8 225.6L324.1 225.0L324.4 224.8L324.7 225.5L325.0 224.8L325.3 224.4L325.6 224.5L325.9 225.8L326.2 225.5L326.5 225.9L326.8 224.5L327.1 224.7L327.4 224.7L327.7 225.5L328.0 225.7L328.3 225.0L328.6 225.0L328.9 225.5L329.2 225.0L329.5 224.7L329.8 225.0L330.1 225.6L330.4 226.2L330.7 225.2L331.0 225.0L331.3 225.2L331.6 225.3L331.9 225.5L332.2 224.7L332.5 225.1L332.8 225.1L333.1 225.6L333.4 225.4L333.7 225.0L334.0 225.6L334.3 225.8L334.6 225.3L334.9 224.5" fill="none" stroke="#00a000" stroke-width="1.5" stroke-linejoin="round"/>
<path d="M51.050000000000004 237.9H336.4" stroke="#000" stroke-width="1.7"/>
<path d="M51.7 30.3V238.5M47.1 226.3H51.7M47.1 168.9H51.7M47.1 111.5H51.7M47.1 54.1H51.7M49.1 197.6H51.7M49.1 140.2H51.7M49.1 82.8H51.7M66.3 237.9v4.6M141.2 237.9v4.6M216.0 237.9v4.6M290.9 237.9v4.6M103.7 237.9v2.6M178.6 237.9v2.6M253.4 237.9v2.6M328.3 237.9v2.6" fill="none" stroke="#000" stroke-width="1.3"/>
<text class="b" transform="translate(44.7 229.0) scale(.95 1)" font-size="10.5" text-anchor="end">0.00</text>
<text class="b" transform="translate(44.7 171.6) scale(.95 1)" font-size="10.5" text-anchor="end">0.01</text>
<text class="b" transform="translate(44.7 114.2) scale(.95 1)" font-size="10.5" text-anchor="end">0.02</text>
<text class="b" transform="translate(44.7 56.8) scale(.95 1)" font-size="10.5" text-anchor="end">0.03</text>
<text class="b" transform="translate(66.3 252.8) scale(.95 1)" font-size="10.5" text-anchor="middle">0</text>
<text class="b" transform="translate(141.2 252.8) scale(.95 1)" font-size="10.5" text-anchor="middle">50</text>
<text class="b" transform="translate(216.0 252.8) scale(.95 1)" font-size="10.5" text-anchor="middle">100</text>
<text class="b" transform="translate(290.9 252.8) scale(.95 1)" font-size="10.5" text-anchor="middle">150</text>
<text class="b" x="57" y="9.7" font-size="13.2">a)</text>
<text class="b i" transform="translate(10.2 138.6) rotate(-90)" font-size="12.4" text-anchor="middle">A</text>
<text y="272.6" font-size="12" class="b"><tspan class="i" x="180.8">t</tspan><tspan class="i" x="186.4">/</tspan><tspan class="sym" x="193.8" font-weight="normal" font-size="12.5" fill="#444">μ</tspan><tspan x="200.7">s</tspan></text>
<path d="M140.6 40.7H160.4" stroke="#00a000" stroke-width="1.3"/>
<path d="M140.6 60.6H160.4" stroke="#ff0000" stroke-width="1"/>
<path d="M140.6 90.8H160.4" stroke="#000" stroke-width="1.2"/>
<text font-size="10.35" x="165.9" y="43.9">440 nm ( <tspan x="210.0" y="39.2" font-size="8.1" fill="#000" fill-opacity="1" font-weight="bold">3</tspan><tspan x="214.2" y="43.9" class="b" font-size="10.45">NDS</tspan><tspan x="237.9" y="39.2" font-size="8.1" fill="#000" fill-opacity="1" font-weight="bold">2</tspan><tspan x="243.7" y="39.8" font-size="10" fill="#000" fill-opacity="0.5" font-weight="normal">−</tspan><tspan x="253.6" y="43.9">and</tspan><tspan x="276.9" y="43.9" class="b" font-size="10.45" fill="#ff0000">NDS</tspan><tspan x="298.0" y="41.3" font-size="8.5" fill="#ff0000" fill-opacity="1" font-weight="bold">•</tspan><tspan x="303.5" y="39.2" font-size="8.1" fill="#ff0000" fill-opacity="1" font-weight="bold">3</tspan><tspan x="309.3" y="39.8" font-size="10" fill="#ff0000" fill-opacity="0.5" font-weight="normal">−</tspan><tspan x="317.7" y="43.9">)</tspan></text>
<text font-size="10.35" x="165.9" y="63.8">725 nm ( <tspan x="209.5" y="63.8" class="b" font-size="10.45" fill="#ff0000">NDS</tspan><tspan x="231.7" y="61.2" font-size="8.5" fill="#ff0000" fill-opacity="1" font-weight="bold">•</tspan><tspan x="236.7" y="59.1" font-size="8.1" fill="#ff0000" fill-opacity="1" font-weight="bold">3</tspan><tspan x="242.29999999999998" y="59.7" font-size="10" fill="#ff0000" fill-opacity="0.5" font-weight="normal">−</tspan><tspan x="253.6" y="63.8">only)</tspan></text>
<text font-size="10.35" x="165.9" y="93.6">440 nm, corrected<tspan dx="3.9">(</tspan><tspan x="259.9" y="88.9" font-size="8.1" fill="#000" fill-opacity="1" font-weight="bold">3</tspan><tspan x="264.1" y="93.6" class="b" font-size="10.45">NDS</tspan><tspan x="288.0" y="88.9" font-size="8.1" fill="#000" fill-opacity="1" font-weight="bold">2</tspan><tspan x="293.5" y="89.5" font-size="10" fill="#000" fill-opacity="0.5" font-weight="normal">−</tspan><tspan x="303.4" y="93.6">only)</tspan></text>
</g>
<g id="plot-b">
<path d="M410.0 227.1h.01M410.5 224.5h.01M411.1 225.4h.01M411.6 225.5h.01M412.1 224.5h.01M412.6 228.4h.01M413.1 225.9h.01M413.6 227.6h.01M414.2 224.3h.01M414.7 224.7h.01M415.2 228.4h.01M415.7 223.7h.01M416.2 228.7h.01M416.7 224.0h.01M417.3 226.0h.01M417.8 228.1h.01M418.3 228.6h.01M418.8 227.0h.01M419.3 226.4h.01M419.8 227.8h.01M420.4 225.2h.01M420.9 229.1h.01M421.4 226.4h.01M421.9 226.4h.01M422.4 230.1h.01M422.9 225.7h.01M423.5 228.9h.01M424.0 231.3h.01M424.5 227.6h.01M425.0 226.8h.01" fill="none" stroke="#000" stroke-width="1.15" stroke-linecap="round" opacity="0.9"/>
<path d="M419.0 224.6h.01M419.9 227.3h.01M420.7 223.4h.01M421.6 223.5h.01M422.4 224.2h.01M423.3 223.7h.01M424.1 225.7h.01M425.0 227.5h.01" fill="none" stroke="#ff0000" stroke-width="1.15" stroke-linecap="round" opacity="0.9"/>
<path d="M425.7 47.7h.01M426.1 50.3h.01M426.4 52.2h.01M426.8 56.5h.01M427.1 59.7h.01M427.4 64.3h.01M427.8 66.4h.01M428.1 70.2h.01M428.4 71.8h.01M428.8 75.4h.01M429.1 78.1h.01M429.4 80.9h.01M429.8 84.0h.01M430.1 87.4h.01M430.4 88.5h.01M430.8 92.6h.01M431.1 95.0h.01M431.4 96.8h.01M431.8 99.5h.01M432.1 101.2h.01M432.5 102.9h.01M432.8 105.8h.01M433.1 108.1h.01M433.5 110.5h.01M433.8 111.9h.01M434.1 116.3h.01M434.5 116.6h.01M434.8 119.7h.01M435.1 122.0h.01M435.5 122.9h.01M435.8 125.2h.01M436.1 126.2h.01M436.5 127.6h.01M436.8 132.5h.01M437.1 132.3h.01M437.5 132.2h.01M437.8 134.9h.01M438.2 136.0h.01M438.5 138.9h.01M438.8 142.0h.01M439.2 143.4h.01M439.5 143.1h.01M439.8 144.4h.01M440.2 147.6h.01M440.5 148.6h.01M440.8 149.5h.01M441.2 153.0h.01M441.5 153.0h.01M441.8 152.3h.01M442.2 153.0h.01M442.5 156.7h.01M442.8 156.0h.01M443.2 159.7h.01M443.5 161.3h.01M443.8 164.1h.01M444.2 161.8h.01M444.5 164.4h.01M444.9 162.5h.01M445.2 165.9h.01M445.5 167.2h.01M445.9 170.5h.01M446.2 167.8h.01M446.5 171.0h.01M446.9 171.8h.01M447.2 175.2h.01M447.5 172.5h.01M447.9 173.4h.01M448.2 176.2h.01M448.5 176.3h.01M448.9 176.9h.01M449.2 177.1h.01M449.5 179.0h.01M449.9 177.8h.01M450.2 181.1h.01M450.6 182.4h.01M450.9 183.0h.01M451.2 186.5h.01M451.6 185.1h.01M451.9 183.5h.01M452.2 185.2h.01M452.6 187.4h.01M452.9 186.5h.01M453.2 190.4h.01M453.6 188.8h.01M453.9 188.4h.01M454.2 188.8h.01M454.6 191.5h.01M454.9 189.8h.01M455.2 189.1h.01M455.6 192.9h.01M455.9 191.9h.01M456.3 195.7h.01M456.6 196.9h.01M456.9 193.8h.01M457.3 195.2h.01M457.6 195.5h.01M457.9 197.2h.01M458.3 197.3h.01M458.6 196.2h.01M458.9 195.4h.01M459.3 198.7h.01M459.6 201.4h.01M459.9 197.4h.01M460.3 198.9h.01M460.6 199.3h.01M460.9 200.5h.01M461.3 197.6h.01M461.6 201.5h.01M461.9 201.3h.01M462.3 205.4h.01M462.6 203.8h.01M463.0 204.4h.01M463.3 203.8h.01M463.6 203.5h.01M464.0 205.7h.01M464.3 202.1h.01M464.6 207.0h.01M465.0 206.3h.01M465.3 205.5h.01M465.6 208.4h.01M466.0 205.7h.01M466.3 205.9h.01M466.6 207.8h.01M467.0 204.4h.01M467.3 207.8h.01M467.6 207.8h.01M468.0 210.2h.01M468.3 211.7h.01M468.7 210.2h.01M469.0 210.0h.01M469.3 210.5h.01M469.7 208.6h.01M470.0 214.4h.01M470.3 212.5h.01M470.7 213.9h.01M471.0 208.7h.01M471.3 212.2h.01M471.7 212.4h.01M472.0 213.7h.01M472.3 210.4h.01M472.7 212.9h.01M473.0 212.1h.01M473.3 216.2h.01M473.7 210.9h.01M474.0 212.4h.01M474.4 212.4h.01M474.7 211.4h.01M475.0 214.1h.01M475.4 214.2h.01M475.7 212.9h.01M476.0 213.6h.01M476.4 214.9h.01M476.7 214.6h.01M477.0 215.7h.01M477.4 213.8h.01M477.7 213.6h.01M478.0 215.4h.01M478.4 212.3h.01M478.7 218.4h.01M479.0 216.3h.01M479.4 213.1h.01M479.7 216.9h.01M480.0 219.1h.01M480.4 214.1h.01M480.7 215.7h.01M481.1 218.8h.01M481.4 215.6h.01M481.7 218.8h.01M482.1 219.5h.01M482.4 217.6h.01M482.7 218.3h.01M483.1 219.5h.01M483.4 218.3h.01M483.7 219.5h.01M484.1 217.8h.01M484.4 218.1h.01M484.7 216.9h.01M485.1 219.1h.01M485.4 220.7h.01M485.7 220.8h.01M486.1 219.0h.01M486.4 216.1h.01M486.8 217.3h.01M487.1 220.0h.01M487.4 217.4h.01M487.8 221.1h.01M488.1 217.5h.01M488.4 220.0h.01M488.8 218.1h.01M489.1 218.4h.01M489.4 220.0h.01M489.8 219.1h.01M490.1 221.6h.01M490.4 219.9h.01M490.8 218.0h.01M491.1 212.9h.01M491.4 218.8h.01M491.8 220.0h.01M492.1 222.0h.01M492.5 218.5h.01M492.8 223.2h.01M493.1 221.8h.01M493.5 219.9h.01M493.8 222.6h.01M494.1 218.0h.01M494.5 218.8h.01M494.8 221.7h.01M495.1 221.8h.01M495.5 223.2h.01M495.8 223.4h.01M496.1 220.2h.01M496.5 220.0h.01M496.8 220.5h.01M497.1 220.7h.01M497.5 222.2h.01M497.8 220.7h.01M498.1 223.9h.01M498.5 221.4h.01M498.8 218.9h.01M499.2 219.2h.01M499.5 222.3h.01M499.8 222.2h.01M500.2 219.3h.01M500.5 218.6h.01M500.8 224.3h.01M501.2 222.5h.01M501.5 221.4h.01M501.8 219.8h.01M502.2 223.4h.01M502.5 220.8h.01M502.8 222.5h.01M503.2 217.9h.01M503.5 221.3h.01M503.8 222.3h.01M504.2 222.7h.01M504.5 220.4h.01M504.9 221.0h.01M505.2 224.1h.01M505.5 221.9h.01M505.9 224.6h.01M506.2 223.7h.01M506.5 224.6h.01M506.9 224.7h.01M507.2 223.6h.01M507.5 224.2h.01M507.9 221.6h.01M508.2 221.2h.01M508.5 223.0h.01M508.9 224.5h.01M509.2 221.2h.01M509.5 226.2h.01M509.9 226.0h.01M510.2 221.5h.01M510.6 221.6h.01M510.9 221.1h.01M511.2 223.2h.01M511.6 225.0h.01M511.9 223.7h.01M512.2 221.9h.01M512.6 224.2h.01M512.9 224.1h.01M513.2 225.3h.01M513.6 225.0h.01M513.9 221.5h.01M514.2 222.2h.01M514.6 225.0h.01M514.9 224.9h.01M515.2 224.0h.01M515.6 222.1h.01M515.9 225.1h.01M516.2 223.4h.01M516.6 226.8h.01M516.9 225.3h.01M517.3 222.4h.01M517.6 221.6h.01M517.9 225.2h.01M518.3 224.6h.01M518.6 221.9h.01M518.9 223.9h.01M519.3 224.2h.01M519.6 222.4h.01M519.9 223.0h.01M520.3 221.4h.01M520.6 222.0h.01M520.9 224.3h.01M521.3 223.6h.01M521.6 223.5h.01M521.9 225.7h.01M522.3 225.1h.01M522.6 221.7h.01M523.0 226.2h.01M523.3 221.7h.01M523.6 223.0h.01M524.0 223.7h.01M524.3 222.5h.01M524.6 222.7h.01M525.0 221.4h.01M525.3 224.2h.01M525.6 223.9h.01M526.0 224.0h.01M526.3 220.3h.01M526.6 221.9h.01M527.0 225.2h.01M527.3 224.1h.01M527.6 224.8h.01M528.0 223.6h.01M528.3 223.2h.01M528.7 219.6h.01M529.0 226.8h.01M529.3 221.8h.01M529.7 222.9h.01M530.0 224.8h.01M530.3 223.9h.01M530.7 224.5h.01M531.0 223.6h.01M531.3 221.9h.01M531.7 226.3h.01M532.0 221.4h.01M532.3 224.3h.01M532.7 221.1h.01M533.0 223.0h.01M533.3 221.6h.01M533.7 222.7h.01M534.0 221.8h.01M534.3 223.6h.01M534.7 225.2h.01M535.0 222.6h.01M535.4 222.5h.01M535.7 220.1h.01M536.0 227.2h.01M536.4 224.1h.01M536.7 221.9h.01M537.0 225.9h.01M537.4 224.2h.01M537.7 220.1h.01M538.0 221.3h.01M538.4 225.3h.01M538.7 221.3h.01M539.0 221.8h.01M539.4 222.5h.01M539.7 223.2h.01M540.0 223.4h.01M540.4 225.3h.01M540.7 224.7h.01M541.1 222.6h.01M541.4 223.6h.01M541.7 220.6h.01M542.1 224.4h.01M542.4 228.0h.01M542.7 224.4h.01M543.1 223.4h.01M543.4 223.2h.01M543.7 223.7h.01M544.1 225.3h.01M544.4 221.3h.01M544.7 225.0h.01M545.1 222.6h.01M545.4 224.4h.01M545.7 225.9h.01M546.1 221.4h.01M546.4 228.2h.01M546.8 225.4h.01M547.1 223.1h.01M547.4 224.5h.01M547.8 222.6h.01M548.1 224.1h.01M548.4 224.7h.01M548.8 220.2h.01M549.1 224.3h.01M549.4 224.2h.01M549.8 225.8h.01M550.1 225.2h.01M550.4 222.8h.01M550.8 222.9h.01M551.1 223.9h.01M551.4 225.1h.01M551.8 222.7h.01M552.1 226.9h.01M552.4 224.5h.01M552.8 224.4h.01M553.1 225.4h.01M553.5 223.7h.01M553.8 225.1h.01M554.1 225.3h.01M554.5 220.8h.01M554.8 222.7h.01M555.1 221.9h.01M555.5 223.8h.01M555.8 222.3h.01M556.1 222.6h.01M556.5 221.8h.01M556.8 219.9h.01M557.1 224.3h.01M557.5 223.5h.01M557.8 224.0h.01M558.1 230.0h.01M558.5 226.3h.01M558.8 223.9h.01M559.2 222.8h.01M559.5 224.9h.01M559.8 222.0h.01M560.2 221.7h.01M560.5 224.7h.01M560.8 221.5h.01M561.2 220.9h.01M561.5 223.1h.01M561.8 225.6h.01M562.2 221.4h.01M562.5 224.2h.01M562.8 224.6h.01M563.2 223.7h.01M563.5 224.9h.01M563.8 222.1h.01M564.2 222.6h.01M564.5 221.8h.01M564.9 222.9h.01M565.2 225.3h.01M565.5 224.2h.01M565.9 222.4h.01M566.2 224.7h.01M566.5 218.9h.01M566.9 224.4h.01M567.2 225.0h.01M567.5 222.0h.01M567.9 222.7h.01M568.2 224.0h.01M568.5 224.4h.01M568.9 223.2h.01M569.2 222.5h.01M569.5 222.6h.01M569.9 224.5h.01M570.2 223.2h.01M570.5 222.5h.01M570.9 222.6h.01M571.2 229.3h.01M571.6 225.5h.01M571.9 225.3h.01M572.2 224.4h.01M572.6 223.7h.01M572.9 222.4h.01M573.2 222.9h.01M573.6 224.2h.01M573.9 223.9h.01M574.2 220.9h.01M574.6 225.0h.01M574.9 223.4h.01M575.2 221.3h.01M575.6 223.4h.01M575.9 227.5h.01M576.2 223.3h.01M576.6 224.6h.01M576.9 224.2h.01M577.3 222.2h.01M577.6 223.2h.01M577.9 224.4h.01M578.3 222.4h.01M578.6 223.2h.01M578.9 223.8h.01M579.3 223.5h.01M579.6 223.5h.01M579.9 224.6h.01M580.3 224.8h.01M580.6 223.9h.01M580.9 225.6h.01M581.3 226.1h.01M581.6 221.7h.01M581.9 224.4h.01M582.3 224.0h.01M582.6 224.2h.01M583.0 223.9h.01M583.3 223.9h.01M583.6 223.9h.01M584.0 225.4h.01M584.3 222.4h.01M584.6 225.2h.01M585.0 222.2h.01M585.3 227.3h.01M585.6 225.8h.01M586.0 222.3h.01M586.3 224.2h.01M586.6 225.1h.01M587.0 223.3h.01M587.3 225.8h.01M587.6 223.9h.01M588.0 227.8h.01M588.3 224.8h.01M588.6 225.1h.01M589.0 223.1h.01M589.3 222.5h.01M589.7 225.5h.01M590.0 221.2h.01M590.3 225.0h.01M590.7 227.5h.01M591.0 228.1h.01M591.3 221.3h.01M591.7 224.1h.01M592.0 225.1h.01M592.3 225.3h.01M592.7 225.9h.01M593.0 221.7h.01M593.3 224.1h.01M593.7 220.9h.01M594.0 224.3h.01M594.3 228.0h.01M594.7 222.5h.01M595.0 224.6h.01M595.4 224.4h.01M595.7 221.3h.01M596.0 224.4h.01M596.4 222.0h.01M596.7 224.0h.01M597.0 225.3h.01M597.4 223.1h.01M597.7 225.0h.01M598.0 221.9h.01M598.4 222.3h.01M598.7 223.9h.01M599.0 222.9h.01M599.4 223.0h.01M599.7 224.5h.01M600.0 222.5h.01M600.4 224.4h.01M600.7 222.9h.01M601.1 225.6h.01M601.4 223.8h.01M601.7 223.3h.01M602.1 225.4h.01M602.4 224.7h.01M602.7 224.9h.01M603.1 222.7h.01M603.4 225.2h.01M603.7 223.2h.01M604.1 221.4h.01M604.4 223.4h.01M604.7 226.8h.01M605.1 223.8h.01M605.4 222.2h.01M605.7 224.5h.01M606.1 222.1h.01M606.4 222.9h.01M606.7 223.3h.01M607.1 224.4h.01M607.4 224.9h.01M607.8 224.4h.01M608.1 223.9h.01M608.4 223.1h.01M608.8 223.3h.01M609.1 224.5h.01M609.4 223.9h.01M609.8 223.3h.01M610.1 226.8h.01M610.4 225.3h.01M610.8 225.4h.01M611.1 224.3h.01M611.4 224.5h.01M611.8 224.4h.01M612.1 225.5h.01M612.4 222.8h.01M612.8 223.5h.01M613.1 226.8h.01M613.5 224.0h.01M613.8 225.9h.01M614.1 221.0h.01M614.5 224.8h.01M614.8 224.7h.01M615.1 223.8h.01M615.5 224.3h.01M615.8 224.1h.01M616.1 221.3h.01M616.5 223.6h.01M616.8 222.5h.01M617.1 222.0h.01M617.5 225.7h.01M617.8 221.1h.01M618.1 222.8h.01M618.5 222.3h.01M618.8 225.5h.01M619.2 222.6h.01M619.5 223.3h.01M619.8 224.9h.01M620.2 220.0h.01M620.5 223.0h.01M620.8 224.4h.01M621.2 223.6h.01M621.5 222.4h.01M621.8 222.0h.01M622.2 223.0h.01M622.5 221.9h.01M622.8 221.4h.01M623.2 226.1h.01M623.5 224.8h.01M623.8 225.6h.01M624.2 223.8h.01M624.5 221.5h.01M624.8 222.8h.01M625.2 225.8h.01M625.5 224.5h.01M625.9 222.2h.01M626.2 224.9h.01M626.5 224.1h.01M626.9 223.4h.01M627.2 227.1h.01M627.5 222.6h.01M627.9 223.4h.01M628.2 223.0h.01M628.5 225.7h.01M628.9 225.3h.01M629.2 225.0h.01M629.5 223.5h.01M629.9 223.8h.01M630.2 223.7h.01M630.5 220.9h.01M630.9 221.7h.01M631.2 225.2h.01M631.6 225.1h.01M631.9 221.0h.01M632.2 224.5h.01M632.6 221.6h.01M632.9 221.2h.01M633.2 224.9h.01M633.6 224.4h.01M633.9 223.8h.01M634.2 225.5h.01M634.6 225.7h.01M634.9 224.7h.01M635.2 222.5h.01M635.6 224.7h.01M635.9 224.3h.01M636.2 224.8h.01M636.6 226.3h.01M636.9 221.4h.01M637.3 228.0h.01M637.6 225.1h.01M637.9 223.0h.01M638.3 226.4h.01M638.6 222.9h.01M638.9 221.8h.01M639.3 225.4h.01M639.6 223.6h.01M639.9 225.9h.01M640.3 223.1h.01M640.6 223.8h.01M640.9 223.6h.01M641.3 221.6h.01M641.6 223.2h.01M641.9 221.7h.01M642.3 222.9h.01M642.6 226.0h.01M642.9 223.5h.01M643.3 223.1h.01M643.6 226.5h.01M644.0 221.7h.01M644.3 223.9h.01M644.6 223.3h.01M645.0 225.5h.01M645.3 223.8h.01M645.6 223.5h.01M646.0 224.5h.01M646.3 223.8h.01M646.6 227.6h.01M647.0 221.6h.01M647.3 225.9h.01M647.6 227.7h.01M648.0 225.6h.01M648.3 225.4h.01M648.6 223.0h.01M649.0 225.5h.01M649.3 223.5h.01M649.7 225.6h.01M650.0 220.2h.01M650.3 223.0h.01M650.7 220.6h.01M651.0 225.7h.01M651.3 222.8h.01M651.7 225.6h.01M652.0 223.0h.01M652.3 222.8h.01M652.7 226.7h.01M653.0 225.9h.01M653.3 226.0h.01M653.7 226.6h.01M654.0 225.2h.01M654.3 225.6h.01M654.7 226.5h.01M655.0 223.8h.01M655.4 223.0h.01M655.7 226.2h.01M656.0 224.9h.01M656.4 224.0h.01M656.7 224.4h.01M657.0 225.2h.01M657.4 222.6h.01M657.7 222.5h.01M658.0 222.8h.01M658.4 224.3h.01M658.7 220.6h.01M659.0 221.0h.01M659.4 224.7h.01M659.7 224.2h.01M660.0 221.9h.01M660.4 225.4h.01M660.7 223.3h.01M661.0 223.9h.01M661.4 225.2h.01M661.7 224.4h.01M662.1 226.7h.01M662.4 224.9h.01M662.7 227.4h.01M663.1 220.1h.01M663.4 221.4h.01M663.7 221.9h.01M664.1 223.5h.01M664.4 222.3h.01M664.7 221.8h.01M665.1 222.2h.01M665.4 222.4h.01M665.7 225.6h.01M666.1 223.3h.01M666.4 224.9h.01M666.7 226.0h.01M667.1 226.0h.01M667.4 223.3h.01M667.8 222.2h.01M668.1 226.3h.01M668.4 221.0h.01M668.8 221.5h.01M669.1 224.7h.01M669.4 224.8h.01M669.8 224.1h.01M670.1 222.3h.01M670.4 224.7h.01M670.8 225.9h.01M671.1 223.4h.01M671.4 227.6h.01M671.8 223.8h.01M672.1 222.0h.01M672.4 223.5h.01M672.8 222.7h.01M673.1 223.2h.01M673.5 222.7h.01M673.8 223.8h.01M674.1 225.4h.01M674.5 224.4h.01M674.8 224.1h.01M675.1 221.8h.01M675.5 221.2h.01M675.8 223.3h.01M676.1 225.3h.01M676.5 225.3h.01M676.8 224.3h.01M677.1 221.6h.01M677.5 223.4h.01M677.8 224.1h.01M678.1 225.3h.01M678.5 222.5h.01M678.8 223.5h.01M679.1 224.1h.01M679.5 223.8h.01M679.8 221.1h.01M680.2 224.3h.01M680.5 221.1h.01M680.8 221.9h.01M681.2 223.9h.01M681.5 222.5h.01M681.8 224.2h.01M682.2 225.4h.01M682.5 224.5h.01M682.8 225.6h.01M683.2 223.1h.01M683.5 224.0h.01M683.8 223.0h.01M684.2 222.6h.01M684.5 229.4h.01M684.8 223.5h.01M685.2 227.1h.01M685.5 223.7h.01M685.9 225.5h.01M686.2 223.8h.01M686.5 221.7h.01M686.9 226.9h.01M687.2 223.7h.01M687.5 224.1h.01M687.9 227.3h.01M688.2 222.9h.01M688.5 223.9h.01M688.9 224.9h.01M689.2 225.2h.01M689.5 218.5h.01M689.9 224.7h.01M690.2 227.1h.01M690.5 225.6h.01M690.9 224.6h.01M691.2 224.7h.01M691.6 224.1h.01M691.9 225.8h.01M692.2 223.1h.01M692.6 224.8h.01M692.9 226.3h.01M693.2 225.4h.01M693.6 224.7h.01" fill="none" stroke="#000" stroke-width="1.2" stroke-linecap="round" opacity="0.95"/>
<path d="M410.0 226.9h.01M410.1 226.9h.01M410.2 227.3h.01M410.4 226.1h.01M410.5 223.7h.01M410.6 226.6h.01M410.7 226.6h.01M410.8 227.0h.01M410.9 222.1h.01M411.0 223.6h.01M411.1 225.4h.01M411.2 225.2h.01M411.3 227.6h.01M411.4 226.6h.01M411.5 226.0h.01M411.6 226.2h.01M411.8 227.8h.01M411.9 227.7h.01M412.0 225.5h.01M412.1 225.8h.01M412.2 229.9h.01M412.3 226.2h.01M412.4 224.2h.01M412.5 227.4h.01M412.6 225.9h.01M412.7 228.8h.01M412.8 224.9h.01M412.9 228.2h.01M413.0 228.5h.01M413.2 226.9h.01M413.3 222.3h.01M413.4 227.4h.01M413.5 228.5h.01M413.6 225.6h.01M413.7 226.0h.01M413.8 223.6h.01M413.9 228.5h.01M414.0 229.0h.01M414.1 226.9h.01M414.2 225.7h.01M414.3 225.7h.01M414.4 224.5h.01M414.6 228.9h.01M414.7 227.7h.01M414.8 226.6h.01M414.9 224.9h.01M415.0 225.5h.01M415.1 227.1h.01M415.2 228.1h.01M415.3 224.9h.01M415.4 224.7h.01M415.5 221.8h.01M415.6 226.7h.01M415.7 223.6h.01M415.8 228.4h.01M416.0 227.3h.01M416.1 227.5h.01M416.2 227.1h.01M416.3 227.8h.01M416.4 227.3h.01M416.5 226.4h.01M416.6 227.1h.01M416.7 225.2h.01M416.8 226.5h.01M416.9 226.4h.01M417.0 223.9h.01M417.1 225.8h.01M417.2 226.1h.01M417.4 226.4h.01M417.5 226.2h.01M417.6 225.4h.01M417.7 227.7h.01M417.8 224.4h.01M417.9 223.7h.01M418.0 224.4h.01M418.1 227.2h.01M418.2 229.0h.01M418.3 227.1h.01M418.4 226.1h.01M418.5 225.0h.01M418.6 226.7h.01M418.8 226.9h.01M418.9 223.8h.01M419.0 227.5h.01M419.1 224.6h.01M419.2 224.8h.01M419.3 228.6h.01M419.4 225.9h.01M419.5 227.3h.01M419.6 228.0h.01M419.7 229.5h.01M419.8 229.0h.01M419.9 225.7h.01M420.0 227.0h.01M420.2 225.9h.01M420.3 228.1h.01M420.4 226.9h.01M420.5 226.8h.01M420.6 229.0h.01M420.7 229.2h.01M420.8 225.6h.01M420.9 226.1h.01M421.0 227.9h.01M421.1 226.5h.01M421.2 225.2h.01M421.3 223.3h.01M421.4 227.8h.01M421.6 225.3h.01M421.7 222.8h.01M421.8 226.2h.01M421.9 223.9h.01M422.0 230.7h.01M422.1 223.9h.01M422.2 226.4h.01M422.3 229.5h.01M422.4 225.0h.01M422.5 224.6h.01M422.6 224.3h.01M422.7 224.3h.01M422.8 226.4h.01M423.0 227.6h.01M423.1 227.1h.01M423.2 226.4h.01M423.3 225.7h.01M423.4 227.2h.01M423.5 226.3h.01M423.6 224.9h.01M423.7 225.8h.01M423.8 222.5h.01M423.9 222.7h.01M424.0 228.3h.01M424.1 227.3h.01M424.2 228.6h.01M424.4 228.3h.01M424.5 225.4h.01M424.6 228.0h.01M424.7 228.1h.01M424.8 226.8h.01M424.9 225.0h.01M425.0 227.0h.01" fill="none" stroke="#1020ff" stroke-width="1.3" stroke-linecap="round" opacity="1"/>
<path d="M425.7 49.8h.01M426.1 54.9h.01M426.4 61.2h.01M426.7 65.6h.01M427.0 68.6h.01M427.3 73.8h.01M427.7 76.9h.01M428.0 81.9h.01M428.3 87.9h.01M428.6 91.3h.01M428.9 94.9h.01M429.2 98.4h.01M429.6 102.4h.01M429.9 106.0h.01M430.2 109.2h.01M430.5 112.7h.01M430.8 116.2h.01M431.1 119.3h.01M431.5 123.1h.01M431.8 127.6h.01M432.1 128.6h.01M432.4 132.7h.01M432.7 133.4h.01M433.0 135.5h.01M433.4 141.1h.01M433.7 141.0h.01M434.0 143.6h.01M434.3 146.0h.01M434.6 151.6h.01M435.0 151.1h.01M435.3 152.4h.01M435.6 156.7h.01M435.9 158.9h.01M436.2 160.8h.01M436.5 162.3h.01M436.9 161.3h.01M437.2 166.7h.01M437.5 169.4h.01M437.8 171.9h.01M438.1 170.6h.01M438.4 173.0h.01M438.8 173.9h.01M439.1 177.1h.01M439.4 177.4h.01M439.7 180.0h.01M440.0 178.8h.01M440.3 180.2h.01M440.7 181.8h.01M441.0 183.3h.01M441.3 186.7h.01M441.6 185.7h.01M441.9 185.8h.01M442.3 188.5h.01M442.6 188.6h.01M442.9 191.2h.01M443.2 190.6h.01M443.5 192.3h.01M443.8 192.4h.01M444.2 193.7h.01M444.5 196.6h.01M444.8 198.0h.01M445.1 198.4h.01M445.4 198.0h.01M445.7 201.0h.01M446.1 201.3h.01M446.4 200.8h.01M446.7 197.8h.01M447.0 201.0h.01M447.3 206.2h.01M447.6 202.7h.01M448.0 203.6h.01M448.3 205.5h.01M448.6 210.2h.01M448.9 207.7h.01M449.2 206.3h.01M449.6 204.2h.01M449.9 206.3h.01M450.2 209.0h.01M450.5 209.6h.01M450.8 208.5h.01M451.1 209.1h.01M451.5 207.9h.01M451.8 215.8h.01M452.1 211.3h.01M452.4 212.1h.01M452.7 213.2h.01M453.0 213.2h.01M453.4 214.2h.01M453.7 214.1h.01M454.0 212.4h.01M454.3 213.2h.01M454.6 212.0h.01M454.9 215.6h.01M455.3 217.3h.01M455.6 214.4h.01M455.9 216.1h.01M456.2 213.0h.01M456.5 215.9h.01M456.9 215.2h.01M457.2 219.6h.01M457.5 217.9h.01M457.8 214.0h.01M458.1 218.0h.01M458.4 217.4h.01M458.8 218.0h.01M459.1 219.6h.01M459.4 217.9h.01M459.7 216.7h.01M460.0 218.3h.01M460.3 219.9h.01M460.7 215.2h.01M461.0 217.7h.01M461.3 219.4h.01M461.6 219.7h.01M461.9 216.0h.01M462.2 218.8h.01M462.6 221.3h.01M462.9 219.2h.01M463.2 218.8h.01M463.5 223.9h.01M463.8 223.8h.01M464.2 218.8h.01M464.5 220.7h.01M464.8 218.9h.01M465.1 218.9h.01M465.4 221.4h.01M465.7 224.2h.01M466.1 221.9h.01M466.4 222.5h.01M466.7 220.1h.01M467.0 220.6h.01M467.3 222.8h.01M467.6 221.6h.01M468.0 223.2h.01M468.3 222.8h.01M468.6 221.6h.01M468.9 222.4h.01M469.2 223.5h.01M469.5 224.0h.01M469.9 219.4h.01M470.2 219.9h.01M470.5 223.4h.01M470.8 221.9h.01M471.1 226.1h.01M471.5 225.1h.01M471.8 223.6h.01M472.1 225.4h.01M472.4 225.8h.01M472.7 223.9h.01M473.0 224.8h.01M473.4 221.2h.01M473.7 226.9h.01M474.0 225.8h.01M474.3 222.1h.01M474.6 222.2h.01M474.9 221.1h.01M475.3 224.7h.01M475.6 225.4h.01M475.9 221.9h.01M476.2 222.3h.01M476.5 225.6h.01M476.8 220.2h.01M477.2 223.7h.01M477.5 222.2h.01M477.8 224.2h.01M478.1 224.9h.01M478.4 223.0h.01M478.8 224.3h.01M479.1 224.0h.01M479.4 225.0h.01M479.7 224.3h.01M480.0 223.1h.01M480.3 229.0h.01M480.7 223.1h.01M481.0 228.2h.01M481.3 222.9h.01M481.6 225.4h.01M481.9 222.4h.01M482.2 224.8h.01M482.6 221.7h.01M482.9 224.9h.01M483.2 226.2h.01M483.5 226.1h.01M483.8 224.1h.01M484.1 223.6h.01M484.5 226.4h.01M484.8 220.5h.01M485.1 225.7h.01M485.4 225.1h.01M485.7 227.3h.01M486.1 223.0h.01M486.4 224.8h.01M486.7 226.8h.01M487.0 226.2h.01M487.3 223.6h.01M487.6 226.8h.01M488.0 225.8h.01M488.3 225.3h.01M488.6 225.0h.01M488.9 225.4h.01M489.2 225.6h.01M489.5 227.7h.01M489.9 226.6h.01M490.2 225.2h.01M490.5 228.1h.01M490.8 225.6h.01M491.1 224.4h.01M491.4 222.7h.01M491.8 225.2h.01M492.1 226.9h.01M492.4 224.6h.01M492.7 225.1h.01M493.0 224.0h.01M493.4 224.6h.01M493.7 226.2h.01M494.0 224.3h.01M494.3 225.6h.01M494.6 221.0h.01M494.9 225.6h.01M495.3 227.3h.01M495.6 221.9h.01M495.9 224.1h.01M496.2 225.0h.01M496.5 225.5h.01M496.8 225.1h.01M497.2 224.6h.01M497.5 229.0h.01M497.8 221.0h.01M498.1 225.8h.01M498.4 224.8h.01M498.7 223.9h.01M499.1 223.5h.01M499.4 229.0h.01M499.7 226.6h.01M500.0 226.4h.01M500.3 223.4h.01M500.7 223.4h.01M501.0 224.2h.01M501.3 225.3h.01M501.6 224.3h.01M501.9 224.0h.01M502.2 224.0h.01M502.6 222.5h.01M502.9 227.4h.01M503.2 226.5h.01M503.5 225.9h.01M503.8 222.5h.01M504.1 226.0h.01M504.5 223.9h.01M504.8 224.7h.01M505.1 225.0h.01M505.4 223.1h.01M505.7 225.1h.01M506.0 224.3h.01M506.4 223.7h.01M506.7 223.6h.01M507.0 228.0h.01M507.3 225.7h.01M507.6 224.6h.01M508.0 222.0h.01M508.3 222.8h.01M508.6 223.8h.01M508.9 225.6h.01M509.2 224.7h.01M509.5 228.8h.01M509.9 226.7h.01M510.2 226.2h.01M510.5 226.1h.01M510.8 223.5h.01M511.1 225.3h.01M511.4 224.8h.01M511.8 226.4h.01M512.1 229.2h.01M512.4 227.9h.01M512.7 225.4h.01M513.0 225.5h.01M513.3 226.3h.01M513.7 227.7h.01M514.0 229.7h.01M514.3 222.7h.01M514.6 226.9h.01M514.9 223.8h.01M515.3 227.1h.01M515.6 224.9h.01M515.9 222.9h.01M516.2 228.1h.01M516.5 222.1h.01M516.8 225.0h.01M517.2 227.3h.01M517.5 226.5h.01M517.8 225.2h.01M518.1 227.1h.01M518.4 228.3h.01M518.7 226.3h.01M519.1 227.4h.01M519.4 223.5h.01M519.7 224.3h.01M520.0 226.1h.01M520.3 223.6h.01M520.6 223.6h.01M521.0 228.5h.01M521.3 227.0h.01M521.6 224.4h.01M521.9 225.2h.01M522.2 226.0h.01M522.6 225.2h.01M522.9 226.1h.01M523.2 226.1h.01M523.5 226.5h.01M523.8 223.4h.01M524.1 227.3h.01M524.5 226.5h.01M524.8 228.8h.01M525.1 224.1h.01M525.4 223.9h.01M525.7 226.9h.01M526.0 228.4h.01M526.4 228.1h.01M526.7 223.8h.01M527.0 227.5h.01M527.3 225.1h.01M527.6 223.8h.01M527.9 227.8h.01M528.3 225.4h.01M528.6 224.9h.01M528.9 226.5h.01M529.2 223.0h.01M529.5 227.0h.01M529.9 224.7h.01M530.2 225.7h.01M530.5 223.1h.01M530.8 228.0h.01M531.1 225.3h.01M531.4 225.9h.01M531.8 226.3h.01M532.1 225.5h.01M532.4 224.6h.01M532.7 226.3h.01M533.0 227.4h.01M533.3 226.3h.01M533.7 227.6h.01M534.0 228.6h.01M534.3 226.4h.01M534.6 225.2h.01M534.9 224.0h.01M535.2 224.5h.01M535.6 225.6h.01M535.9 224.9h.01M536.2 224.8h.01M536.5 223.9h.01M536.8 227.9h.01M537.2 225.7h.01M537.5 226.2h.01M537.8 224.2h.01M538.1 225.8h.01M538.4 222.8h.01M538.7 225.0h.01M539.1 224.5h.01M539.4 225.1h.01M539.7 225.5h.01M540.0 224.9h.01M540.3 224.9h.01M540.6 227.3h.01M541.0 227.0h.01M541.3 224.8h.01M541.6 225.0h.01M541.9 228.1h.01M542.2 227.1h.01M542.5 228.0h.01M542.9 223.1h.01M543.2 225.6h.01M543.5 225.6h.01M543.8 225.5h.01M544.1 223.4h.01M544.5 224.9h.01M544.8 224.9h.01M545.1 224.8h.01M545.4 227.1h.01M545.7 227.3h.01M546.0 225.0h.01M546.4 227.0h.01M546.7 227.3h.01M547.0 224.9h.01M547.3 224.1h.01M547.6 224.5h.01M547.9 223.5h.01M548.3 226.7h.01M548.6 224.1h.01M548.9 224.2h.01M549.2 228.0h.01M549.5 227.7h.01M549.8 226.8h.01M550.2 224.6h.01M550.5 225.6h.01M550.8 225.5h.01M551.1 225.1h.01M551.4 226.2h.01M551.8 225.0h.01M552.1 227.9h.01M552.4 226.7h.01M552.7 224.8h.01M553.0 226.6h.01M553.3 227.7h.01M553.7 224.5h.01M554.0 228.5h.01M554.3 225.5h.01M554.6 223.6h.01M554.9 228.8h.01M555.2 224.7h.01M555.6 224.8h.01M555.9 222.3h.01M556.2 225.7h.01M556.5 221.8h.01M556.8 223.3h.01M557.1 227.3h.01M557.5 226.2h.01M557.8 225.0h.01M558.1 224.5h.01M558.4 223.5h.01M558.7 226.2h.01M559.1 227.1h.01M559.4 225.5h.01M559.7 229.4h.01M560.0 227.0h.01M560.3 226.2h.01" fill="none" stroke="#1020ff" stroke-width="1.25" stroke-linecap="round" opacity="1"/>
<path d="M425.6 46.5L426.3 58.9L427.1 70.4L427.8 81.0L428.6 91.0L429.3 100.3L430.1 108.9L430.8 116.9L431.6 124.4L432.3 131.4L433.1 137.9L433.8 143.9L434.6 149.5L435.3 154.8L436.1 159.6L436.8 164.2L437.6 168.4L438.3 172.3L439.1 176.0L439.8 179.4L440.6 182.6L441.3 185.5L442.1 188.3L442.8 190.8L443.6 193.2L444.3 195.4L445.1 197.5L445.8 199.4L446.6 201.2L447.3 202.9L448.1 204.5L448.8 205.9L449.6 207.2L450.3 208.5L451.0 209.7L451.8 210.8L452.5 211.8L453.3 212.7L454.0 213.6L454.8 214.4L455.5 215.2L456.3 215.9L457.0 216.5L457.8 217.1L458.5 217.7L459.3 218.3L460.0 218.7L460.8 219.2L461.5 219.6L462.3 220.0L463.0 220.4L463.8 220.8L464.5 221.1L465.3 221.4L466.0 221.7L466.8 221.9L467.5 222.2L468.3 222.4L469.0 222.6L469.8 222.8L470.5 223.0L471.3 223.1L472.0 223.3L472.8 223.5L473.5 223.6L474.3 223.7L475.0 223.8L475.7 223.9L476.5 224.0L477.2 224.1L478.0 224.2L478.7 224.3L479.5 224.4L480.2 224.5L481.0 224.5L481.7 224.6L482.5 224.7L483.2 224.7L484.0 224.8L484.7 224.8L485.5 224.8L486.2 224.9L487.0 224.9L487.7 225.0L488.5 225.0L489.2 225.0L490.0 225.1L490.7 225.1L491.5 225.1L492.2 225.1L493.0 225.2L493.7 225.2L494.5 225.2L495.2 225.2L496.0 225.2L496.7 225.2L497.5 225.3L498.2 225.3L499.0 225.3L499.7 225.3L500.4 225.3L501.2 225.3L501.9 225.3L502.7 225.3L503.4 225.3L504.2 225.3L504.9 225.3L505.7 225.4L506.4 225.4L507.2 225.4L507.9 225.4L508.7 225.4L509.4 225.4L510.2 225.4L510.9 225.4L511.7 225.4L512.4 225.4L513.2 225.4L513.9 225.4L514.7 225.4L515.4 225.4L516.2 225.4L516.9 225.4L517.7 225.4L518.4 225.4L519.2 225.4L519.9 225.4L520.7 225.4L521.4 225.4L522.2 225.4L522.9 225.4L523.7 225.4L524.4 225.4L525.1 225.4L525.9 225.4L526.6 225.4L527.4 225.4L528.1 225.4L528.9 225.4L529.6 225.4L530.4 225.4L531.1 225.4L531.9 225.4L532.6 225.4L533.4 225.4L534.1 225.4L534.9 225.4L535.6 225.4L536.4 225.4L537.1 225.4L537.9 225.4L538.6 225.4L539.4 225.4L540.1 225.4L540.9 225.4L541.6 225.4L542.4 225.4L543.1 225.4L543.9 225.4L544.6 225.4L545.4 225.4L546.1 225.4L546.9 225.4L547.6 225.4L548.4 225.4L549.1 225.4L549.8 225.4L550.6 225.4L551.3 225.4L552.1 225.4L552.8 225.4L553.6 225.4L554.3 225.4L555.1 225.4L555.8 225.4L556.6 225.4L557.3 225.4L558.1 225.4L558.8 225.4L559.6 225.4L560.3 225.4" fill="none" stroke="#1428ff" stroke-width="1.3"/>
<path d="M425.6 45.4L426.3 53.0L427.1 60.2L427.8 67.1L428.6 73.7L429.3 80.1L430.1 86.1L430.8 91.9L431.6 97.5L432.3 102.9L433.1 108.0L433.8 112.9L434.6 117.6L435.3 122.0L436.1 126.3L436.8 130.5L437.6 134.4L438.3 138.2L439.1 141.8L439.8 145.3L440.6 148.6L441.3 151.8L442.1 154.8L442.8 157.7L443.6 160.5L444.3 163.2L445.1 165.8L445.8 168.2L446.6 170.6L447.3 172.8L448.1 175.0L448.8 177.1L449.6 179.1L450.3 180.9L451.0 182.8L451.8 184.5L452.5 186.2L453.3 187.8L454.0 189.3L454.8 190.8L455.5 192.2L456.3 193.5L457.0 194.8L457.8 196.0L458.5 197.2L459.3 198.3L460.0 199.4L460.8 200.5L461.5 201.4L462.3 202.4L463.0 203.3L463.8 204.2L464.5 205.0L465.3 205.8L466.0 206.6L466.8 207.3L467.5 208.0L468.3 208.7L469.0 209.3L469.8 210.0L470.5 210.6L471.3 211.1L472.0 211.7L472.8 212.2L473.5 212.7L474.3 213.2L475.0 213.6L475.7 214.1L476.5 214.5L477.2 214.9L478.0 215.3L478.7 215.6L479.5 216.0L480.2 216.3L481.0 216.6L481.7 217.0L482.5 217.3L483.2 217.5L484.0 217.8L484.7 218.1L485.5 218.3L486.2 218.6L487.0 218.8L487.7 219.0L488.5 219.2L489.2 219.4L490.0 219.6L490.7 219.8L491.5 220.0L492.2 220.2L493.0 220.3L493.7 220.5L494.5 220.6L495.2 220.8L496.0 220.9L496.7 221.0L497.5 221.2L498.2 221.3L499.0 221.4L499.7 221.5L500.4 221.6L501.2 221.7L501.9 221.8L502.7 221.9L503.4 222.0L504.2 222.1L504.9 222.2L505.7 222.2L506.4 222.3L507.2 222.4L507.9 222.4L508.7 222.5L509.4 222.6L510.2 222.6L510.9 222.7L511.7 222.7L512.4 222.8L513.2 222.9L513.9 222.9L514.7 222.9L515.4 223.0L516.2 223.0L516.9 223.1L517.7 223.1L518.4 223.2L519.2 223.2L519.9 223.2L520.7 223.3L521.4 223.3L522.2 223.3L522.9 223.3L523.7 223.4L524.4 223.4L525.1 223.4L525.9 223.5L526.6 223.5L527.4 223.5L528.1 223.5L528.9 223.5L529.6 223.6L530.4 223.6L531.1 223.6L531.9 223.6L532.6 223.6L533.4 223.6L534.1 223.7L534.9 223.7L535.6 223.7L536.4 223.7L537.1 223.7L537.9 223.7L538.6 223.7L539.4 223.7L540.1 223.8L540.9 223.8L541.6 223.8L542.4 223.8L543.1 223.8L543.9 223.8L544.6 223.8L545.4 223.8L546.1 223.8L546.9 223.8L547.6 223.8L548.4 223.9L549.1 223.9L549.8 223.9L550.6 223.9L551.3 223.9L552.1 223.9L552.8 223.9L553.6 223.9L554.3 223.9L555.1 223.9L555.8 223.9L556.6 223.9L557.3 223.9L558.1 223.9L558.8 223.9L559.6 223.9L560.3 223.9L561.1 223.9L561.8 223.9L562.6 223.9L563.3 223.9L564.1 223.9L564.8 223.9L565.6 223.9L566.3 223.9L567.1 224.0L567.8 224.0L568.6 224.0L569.3 224.0L570.1 224.0L570.8 224.0L571.6 224.0L572.3 224.0L573.1 224.0L573.8 224.0L574.6 224.0L575.3 224.0L576.0 224.0L576.8 224.0L577.5 224.0L578.3 224.0L579.0 224.0L579.8 224.0L580.5 224.0L581.3 224.0L582.0 224.0L582.8 224.0L583.5 224.0L584.3 224.0L585.0 224.0L585.8 224.0L586.5 224.0L587.3 224.0L588.0 224.0L588.8 224.0L589.5 224.0L590.3 224.0L591.0 224.0L591.8 224.0L592.5 224.0L593.3 224.0L594.0 224.0L594.8 224.0L595.5 224.0L596.3 224.0L597.0 224.0L597.8 224.0L598.5 224.0L599.3 224.0L600.0 224.0L600.7 224.0L601.5 224.0L602.2 224.0L603.0 224.0L603.7 224.0L604.5 224.0L605.2 224.0L606.0 224.0L606.7 224.0L607.5 224.0L608.2 224.0L609.0 224.0L609.7 224.0L610.5 224.0L611.2 224.0L612.0 224.0L612.7 224.0L613.5 224.0L614.2 224.0L615.0 224.0L615.7 224.0L616.5 224.0L617.2 224.0L618.0 224.0L618.7 224.0L619.5 224.0L620.2 224.0L621.0 224.0L621.7 224.0L622.5 224.0L623.2 224.0L624.0 224.0L624.7 224.0L625.4 224.0L626.2 224.0L626.9 224.0L627.7 224.0L628.4 224.0L629.2 224.0L629.9 224.0L630.7 224.0L631.4 224.0L632.2 224.0L632.9 224.0L633.7 224.0L634.4 224.0L635.2 224.0L635.9 224.0L636.7 224.0L637.4 224.0L638.2 224.0L638.9 224.0L639.7 224.0L640.4 224.0L641.2 224.0L641.9 224.0L642.7 224.0L643.4 224.0L644.2 224.0L644.9 224.0L645.7 224.0L646.4 224.0L647.2 224.0L647.9 224.0L648.7 224.0L649.4 224.0L650.1 224.0L650.9 224.0L651.6 224.0L652.4 224.0L653.1 224.0L653.9 224.0L654.6 224.0L655.4 224.0L656.1 224.0L656.9 224.0L657.6 224.0L658.4 224.0L659.1 224.0L659.9 224.0L660.6 224.0L661.4 224.0L662.1 224.0L662.9 224.0L663.6 224.0L664.4 224.0L665.1 224.0L665.9 224.0L666.6 224.0L667.4 224.0L668.1 224.0L668.9 224.0L669.6 224.0L670.4 224.0L671.1 224.0L671.9 224.0L672.6 224.0L673.4 224.0L674.1 224.0L674.8 224.0L675.6 224.0L676.3 224.0L677.1 224.0L677.8 224.0L678.6 224.0L679.3 224.0L680.1 224.0L680.8 224.0L681.6 224.0L682.3 224.0L683.1 224.0L683.8 224.0L684.6 224.0L685.3 224.0L686.1 224.0L686.8 224.0L687.6 224.0L688.3 224.0L689.1 224.0L689.8 224.0L690.6 224.0L691.3 224.0L692.1 224.0L692.8 224.0L693.6 224.0" fill="none" stroke="#000" stroke-width="1.5"/>
<path d="M425.9 52.2h.01M426.2 56.3h.01M426.5 62.2h.01M426.9 67.1h.01M427.2 72.0h.01M427.5 76.8h.01M427.8 79.9h.01M428.1 86.0h.01M428.4 88.2h.01M428.8 93.4h.01M429.1 98.2h.01M429.4 100.9h.01M429.7 105.2h.01M430.0 108.9h.01M430.4 110.8h.01M430.7 114.7h.01M431.0 120.9h.01M431.3 121.9h.01M431.6 125.0h.01M431.9 128.3h.01M432.3 129.3h.01M432.6 134.4h.01M432.9 137.1h.01M433.2 138.8h.01M433.5 140.5h.01M433.8 145.5h.01M434.2 146.7h.01M434.5 149.2h.01M434.8 150.5h.01M435.1 151.0h.01M435.4 154.6h.01M435.7 158.1h.01M436.1 160.5h.01M436.4 164.5h.01M436.7 163.4h.01M437.0 164.4h.01M437.3 166.4h.01M437.7 169.5h.01M438.0 168.7h.01M438.3 173.6h.01M438.6 172.5h.01M438.9 174.8h.01M439.2 177.6h.01M439.6 177.0h.01M439.9 181.1h.01M440.2 182.2h.01M440.5 182.0h.01M440.8 181.2h.01M441.1 183.8h.01M441.5 187.0h.01M441.8 185.1h.01M442.1 185.1h.01M442.4 189.2h.01M442.7 190.5h.01M443.0 193.1h.01M443.4 194.2h.01M443.7 195.7h.01M444.0 196.1h.01M444.3 197.9h.01M444.6 194.5h.01M445.0 197.1h.01M445.3 201.7h.01M445.6 198.2h.01M445.9 198.8h.01M446.2 202.1h.01M446.5 202.3h.01M446.9 204.5h.01M447.2 201.0h.01M447.5 206.2h.01M447.8 204.8h.01M448.1 202.7h.01M448.4 207.0h.01M448.8 205.5h.01M449.1 205.9h.01M449.4 209.4h.01M449.7 205.6h.01M450.0 210.2h.01M450.3 209.6h.01M450.7 211.1h.01M451.0 209.1h.01M451.3 211.0h.01M451.6 210.2h.01M451.9 212.1h.01M452.3 209.6h.01M452.6 212.3h.01M452.9 211.0h.01M453.2 213.7h.01M453.5 212.0h.01M453.8 216.4h.01M454.2 215.0h.01M454.5 213.4h.01M454.8 212.5h.01M455.1 215.0h.01M455.4 212.0h.01M455.7 212.8h.01M456.1 219.4h.01M456.4 215.8h.01M456.7 216.1h.01M457.0 215.5h.01M457.3 214.8h.01M457.6 217.9h.01M458.0 215.6h.01M458.3 220.9h.01M458.6 216.8h.01M458.9 220.3h.01M459.2 220.5h.01M459.6 216.9h.01M459.9 220.0h.01M460.2 217.8h.01M460.5 219.3h.01M460.8 218.9h.01M461.1 220.2h.01M461.5 222.7h.01M461.8 217.6h.01M462.1 217.7h.01M462.4 220.0h.01M462.7 220.6h.01M463.0 221.9h.01M463.4 222.4h.01M463.7 222.6h.01M464.0 223.4h.01M464.3 221.4h.01M464.6 219.0h.01M464.9 222.2h.01M465.3 220.7h.01M465.6 220.7h.01M465.9 223.1h.01M466.2 220.6h.01M466.5 222.1h.01M466.8 219.4h.01M467.2 219.7h.01M467.5 222.7h.01M467.8 222.8h.01M468.1 219.3h.01M468.4 224.2h.01M468.8 219.2h.01M469.1 220.4h.01M469.4 223.6h.01M469.7 223.0h.01M470.0 225.0h.01M470.3 224.8h.01M470.7 221.5h.01M471.0 222.6h.01M471.3 222.5h.01M471.6 218.5h.01M471.9 222.9h.01M472.2 224.2h.01M472.6 221.6h.01M472.9 222.4h.01M473.2 224.5h.01M473.5 225.4h.01M473.8 222.9h.01M474.1 224.5h.01M474.5 225.3h.01M474.8 225.1h.01M475.1 221.4h.01M475.4 224.3h.01M475.7 223.6h.01M476.1 226.6h.01M476.4 226.5h.01M476.7 227.4h.01M477.0 224.0h.01M477.3 225.4h.01M477.6 228.1h.01M478.0 220.2h.01M478.3 224.2h.01M478.6 225.8h.01M478.9 222.6h.01M479.2 223.7h.01M479.5 223.8h.01M479.9 221.8h.01M480.2 224.9h.01M480.5 223.2h.01M480.8 226.2h.01M481.1 226.6h.01M481.4 226.5h.01M481.8 224.2h.01M482.1 224.7h.01M482.4 225.7h.01M482.7 222.7h.01M483.0 227.3h.01M483.4 223.7h.01M483.7 223.1h.01M484.0 224.2h.01M484.3 223.9h.01M484.6 225.4h.01M484.9 227.0h.01M485.3 222.9h.01M485.6 226.3h.01M485.9 223.9h.01M486.2 222.3h.01M486.5 223.0h.01M486.8 224.6h.01M487.2 224.6h.01M487.5 223.0h.01M487.8 222.6h.01M488.1 226.9h.01M488.4 227.7h.01M488.7 224.5h.01M489.1 224.0h.01M489.4 225.0h.01M489.7 225.0h.01M490.0 225.9h.01M490.3 224.7h.01M490.7 228.0h.01M491.0 224.2h.01M491.3 223.5h.01M491.6 224.2h.01M491.9 227.0h.01M492.2 226.0h.01M492.6 224.7h.01M492.9 225.4h.01M493.2 224.8h.01M493.5 224.6h.01M493.8 227.1h.01M494.1 224.4h.01M494.5 226.0h.01M494.8 226.6h.01M495.1 224.7h.01M495.4 225.0h.01M495.7 223.5h.01M496.0 224.1h.01M496.4 223.5h.01M496.7 226.0h.01M497.0 223.6h.01M497.3 224.0h.01M497.6 223.1h.01M498.0 222.8h.01M498.3 226.8h.01M498.6 227.1h.01M498.9 226.2h.01M499.2 222.8h.01M499.5 224.7h.01M499.9 227.9h.01M500.2 225.7h.01M500.5 228.1h.01M500.8 221.6h.01M501.1 224.3h.01M501.4 227.5h.01M501.8 224.6h.01M502.1 220.6h.01M502.4 224.5h.01M502.7 227.8h.01M503.0 226.0h.01M503.3 224.1h.01M503.7 222.1h.01M504.0 223.9h.01M504.3 224.2h.01M504.6 227.3h.01M504.9 224.0h.01M505.3 222.5h.01M505.6 226.9h.01M505.9 226.9h.01M506.2 227.0h.01M506.5 224.6h.01M506.8 225.6h.01M507.2 222.1h.01M507.5 222.8h.01M507.8 224.1h.01M508.1 224.7h.01M508.4 228.1h.01M508.7 225.8h.01M509.1 225.4h.01M509.4 222.3h.01M509.7 225.3h.01M510.0 223.2h.01M510.3 224.5h.01M510.6 224.2h.01M511.0 226.1h.01M511.3 228.0h.01M511.6 223.8h.01M511.9 223.3h.01M512.2 228.8h.01M512.6 226.3h.01M512.9 225.5h.01M513.2 224.1h.01M513.5 227.7h.01M513.8 221.5h.01M514.1 225.7h.01M514.5 224.5h.01M514.8 225.4h.01M515.1 223.2h.01M515.4 224.0h.01M515.7 223.4h.01M516.0 226.0h.01M516.4 224.7h.01M516.7 224.1h.01M517.0 221.0h.01M517.3 223.8h.01M517.6 225.3h.01M517.9 222.6h.01M518.3 226.4h.01M518.6 224.5h.01M518.9 224.6h.01M519.2 226.1h.01M519.5 225.7h.01M519.9 224.4h.01M520.2 228.3h.01M520.5 225.1h.01M520.8 229.1h.01M521.1 229.4h.01M521.4 223.5h.01M521.8 225.5h.01M522.1 224.0h.01M522.4 224.7h.01M522.7 229.4h.01M523.0 222.9h.01M523.3 225.7h.01M523.7 226.3h.01M524.0 225.9h.01M524.3 231.1h.01M524.6 229.0h.01M524.9 224.0h.01M525.2 228.9h.01M525.6 224.6h.01M525.9 224.1h.01M526.2 227.6h.01M526.5 227.5h.01M526.8 227.9h.01M527.2 227.2h.01M527.5 226.1h.01M527.8 226.7h.01M528.1 226.4h.01M528.4 227.1h.01M528.7 222.1h.01M529.1 225.4h.01M529.4 226.6h.01M529.7 227.5h.01M530.0 224.5h.01M530.3 225.4h.01M530.6 223.9h.01M531.0 225.5h.01M531.3 224.1h.01M531.6 226.7h.01M531.9 228.7h.01M532.2 226.6h.01M532.5 227.4h.01M532.9 227.3h.01M533.2 224.2h.01M533.5 224.7h.01M533.8 225.3h.01M534.1 226.4h.01M534.5 224.4h.01M534.8 225.8h.01M535.1 225.2h.01M535.4 224.1h.01M535.7 226.1h.01M536.0 226.3h.01M536.4 223.5h.01M536.7 226.2h.01M537.0 225.6h.01M537.3 223.5h.01M537.6 225.9h.01M537.9 226.4h.01M538.3 222.4h.01M538.6 224.4h.01M538.9 227.3h.01M539.2 225.4h.01M539.5 226.5h.01M539.8 225.9h.01M540.2 222.9h.01M540.5 228.6h.01M540.8 228.4h.01M541.1 224.5h.01M541.4 226.6h.01M541.8 226.9h.01M542.1 228.1h.01M542.4 222.9h.01M542.7 223.2h.01M543.0 225.9h.01M543.3 226.7h.01M543.7 224.3h.01M544.0 223.7h.01M544.3 224.9h.01M544.6 225.6h.01M544.9 227.6h.01M545.2 225.2h.01M545.6 221.6h.01M545.9 227.1h.01M546.2 229.1h.01M546.5 228.3h.01M546.8 225.8h.01M547.1 223.5h.01M547.5 223.4h.01M547.8 226.4h.01M548.1 226.4h.01M548.4 222.7h.01M548.7 225.1h.01M549.1 223.9h.01M549.4 225.7h.01M549.7 225.3h.01M550.0 223.0h.01M550.3 227.0h.01M550.6 227.8h.01M551.0 224.5h.01M551.3 229.1h.01M551.6 224.6h.01M551.9 223.4h.01M552.2 224.6h.01M552.5 225.2h.01M552.9 224.3h.01M553.2 225.2h.01M553.5 228.1h.01M553.8 225.6h.01M554.1 227.1h.01M554.4 222.7h.01M554.8 224.1h.01M555.1 225.7h.01M555.4 224.8h.01M555.7 226.0h.01M556.0 222.8h.01M556.4 227.3h.01M556.7 226.6h.01M557.0 222.0h.01M557.3 225.0h.01M557.6 224.6h.01M557.9 222.0h.01M558.3 225.6h.01M558.6 226.0h.01M558.9 221.4h.01M559.2 226.4h.01M559.5 227.5h.01M559.8 223.6h.01M560.2 226.5h.01M560.5 227.3h.01" fill="none" stroke="#1020ff" stroke-width="1.25" stroke-linecap="round" opacity="1"/>
<path d="M425.7 41.2h.01M426.1 43.3h.01M426.5 45.8h.01M426.8 47.3h.01M427.2 48.9h.01M427.5 49.2h.01M427.9 53.1h.01M428.3 53.9h.01M428.6 55.4h.01M429.0 58.4h.01M429.3 59.2h.01M429.7 60.8h.01M430.0 63.0h.01M430.4 63.7h.01M430.8 64.9h.01M431.1 66.4h.01M431.5 69.1h.01M431.8 70.3h.01M432.2 70.0h.01M432.5 74.5h.01M432.9 74.9h.01M433.3 75.8h.01M433.6 77.9h.01M434.0 78.9h.01M434.3 80.8h.01M434.7 81.7h.01M435.0 82.6h.01M435.4 85.4h.01M435.8 86.4h.01M436.1 88.0h.01M436.5 89.7h.01M436.8 90.7h.01M437.2 93.0h.01M437.5 92.6h.01M437.9 92.9h.01M438.3 94.2h.01M438.6 95.9h.01M439.0 99.4h.01M439.3 98.2h.01M439.7 101.6h.01M440.1 102.2h.01M440.4 101.5h.01M440.8 105.7h.01M441.1 104.9h.01M441.5 106.6h.01M441.8 108.3h.01M442.2 110.2h.01M442.6 110.0h.01M442.9 112.0h.01M443.3 111.5h.01M443.6 112.5h.01M444.0 116.3h.01M444.3 116.5h.01M444.7 117.4h.01M445.1 119.4h.01M445.4 120.4h.01M445.8 120.1h.01M446.1 121.5h.01M446.5 124.1h.01M446.8 123.9h.01M447.2 123.7h.01M447.6 126.6h.01M447.9 127.3h.01M448.3 125.4h.01M448.6 126.7h.01M449.0 131.0h.01M449.3 131.6h.01M449.7 130.6h.01M450.1 133.3h.01M450.4 133.1h.01M450.8 134.3h.01M451.1 134.0h.01M451.5 138.5h.01M451.9 139.0h.01M452.2 138.8h.01M452.6 136.9h.01M452.9 139.2h.01M453.3 141.9h.01M453.6 140.1h.01M454.0 140.6h.01M454.4 142.6h.01M454.7 143.6h.01M455.1 143.4h.01M455.4 143.2h.01M455.8 145.3h.01M456.1 145.6h.01M456.5 147.1h.01M456.9 148.3h.01M457.2 149.8h.01M457.6 149.0h.01M457.9 150.5h.01M458.3 151.1h.01M458.6 150.3h.01M459.0 151.6h.01M459.4 151.8h.01M459.7 155.8h.01M460.1 153.6h.01M460.4 155.8h.01M460.8 156.8h.01M461.1 157.6h.01M461.5 155.5h.01M461.9 156.6h.01M462.2 159.4h.01M462.6 160.6h.01M462.9 159.7h.01M463.3 161.0h.01M463.6 158.7h.01M464.0 163.6h.01M464.4 164.8h.01M464.7 163.2h.01M465.1 163.4h.01M465.4 163.8h.01M465.8 163.5h.01M466.2 162.2h.01M466.5 166.3h.01M466.9 167.1h.01M467.2 169.5h.01M467.6 167.1h.01M467.9 166.8h.01M468.3 169.0h.01M468.7 167.4h.01M469.0 169.6h.01M469.4 168.0h.01M469.7 170.3h.01M470.1 172.8h.01M470.4 172.7h.01M470.8 174.6h.01M471.2 175.4h.01M471.5 172.9h.01M471.9 172.5h.01M472.2 171.3h.01M472.6 174.9h.01M472.9 175.6h.01M473.3 177.5h.01M473.7 174.7h.01M474.0 176.1h.01M474.4 178.1h.01M474.7 176.6h.01M475.1 177.2h.01M475.4 181.5h.01M475.8 177.8h.01M476.2 179.2h.01M476.5 180.5h.01M476.9 181.0h.01M477.2 177.9h.01M477.6 178.7h.01M478.0 178.6h.01M478.3 183.8h.01M478.7 183.5h.01M479.0 181.3h.01M479.4 185.2h.01M479.7 184.8h.01M480.1 187.0h.01M480.5 181.3h.01M480.8 183.0h.01M481.2 184.4h.01M481.5 185.2h.01M481.9 186.6h.01M482.2 187.0h.01M482.6 185.6h.01M483.0 188.2h.01M483.3 185.3h.01M483.7 188.6h.01M484.0 189.6h.01M484.4 186.2h.01M484.7 189.0h.01M485.1 188.2h.01M485.5 190.2h.01M485.8 193.7h.01M486.2 189.2h.01M486.5 192.8h.01M486.9 188.9h.01M487.2 193.9h.01M487.6 194.7h.01M488.0 191.2h.01M488.3 191.3h.01M488.7 192.2h.01M489.0 194.9h.01M489.4 191.4h.01M489.8 195.9h.01M490.1 194.4h.01M490.5 195.3h.01M490.8 194.9h.01M491.2 192.9h.01M491.5 195.9h.01M491.9 194.0h.01M492.3 194.0h.01M492.6 198.8h.01M493.0 198.0h.01M493.3 196.8h.01M493.7 197.5h.01M494.0 196.1h.01M494.4 200.6h.01M494.8 195.8h.01M495.1 196.0h.01M495.5 198.0h.01M495.8 200.6h.01M496.2 198.2h.01M496.5 199.5h.01M496.9 197.6h.01M497.3 199.1h.01M497.6 197.8h.01M498.0 200.3h.01M498.3 196.9h.01M498.7 204.4h.01M499.0 202.1h.01M499.4 199.4h.01M499.8 203.6h.01M500.1 199.4h.01M500.5 203.4h.01M500.8 201.1h.01M501.2 203.3h.01M501.6 202.6h.01M501.9 201.5h.01M502.3 202.3h.01M502.6 203.1h.01M503.0 198.2h.01M503.3 202.7h.01M503.7 204.9h.01M504.1 201.2h.01M504.4 201.7h.01M504.8 201.0h.01M505.1 200.1h.01M505.5 205.8h.01M505.8 201.9h.01M506.2 201.9h.01M506.6 204.5h.01M506.9 204.2h.01M507.3 211.1h.01M507.6 206.2h.01M508.0 201.5h.01M508.3 209.1h.01M508.7 206.7h.01M509.1 205.1h.01M509.4 204.7h.01M509.8 202.6h.01M510.1 210.0h.01M510.5 206.3h.01M510.8 204.7h.01M511.2 209.6h.01M511.6 207.0h.01M511.9 203.0h.01M512.3 204.4h.01M512.6 206.2h.01M513.0 213.2h.01M513.4 208.0h.01M513.7 207.0h.01M514.1 208.7h.01M514.4 208.3h.01M514.8 201.6h.01M515.1 208.9h.01M515.5 210.7h.01M515.9 208.2h.01M516.2 209.6h.01M516.6 209.7h.01M516.9 209.3h.01M517.3 207.6h.01M517.6 208.9h.01M518.0 212.2h.01M518.4 210.0h.01M518.7 208.8h.01M519.1 211.0h.01M519.4 207.6h.01M519.8 208.5h.01M520.1 212.5h.01M520.5 209.8h.01M520.9 206.3h.01M521.2 207.3h.01M521.6 211.0h.01M521.9 209.0h.01M522.3 212.6h.01M522.6 214.4h.01M523.0 210.1h.01M523.4 210.9h.01M523.7 210.4h.01M524.1 211.7h.01M524.4 211.1h.01M524.8 213.0h.01M525.2 211.0h.01M525.5 210.3h.01M525.9 212.3h.01M526.2 210.5h.01M526.6 216.3h.01M526.9 214.3h.01M527.3 209.5h.01M527.7 208.9h.01M528.0 212.3h.01M528.4 213.2h.01M528.7 215.8h.01M529.1 212.4h.01M529.4 211.5h.01M529.8 216.6h.01M530.2 212.2h.01M530.5 212.5h.01M530.9 212.7h.01M531.2 216.2h.01M531.6 212.6h.01M531.9 217.2h.01M532.3 210.7h.01M532.7 213.8h.01M533.0 216.7h.01M533.4 211.3h.01M533.7 211.8h.01M534.1 215.8h.01M534.4 209.7h.01M534.8 216.8h.01M535.2 214.0h.01M535.5 212.2h.01M535.9 219.8h.01M536.2 212.7h.01M536.6 215.1h.01M537.0 215.1h.01M537.3 217.5h.01M537.7 214.5h.01M538.0 217.7h.01M538.4 217.5h.01M538.7 216.4h.01M539.1 218.2h.01M539.5 212.2h.01M539.8 218.6h.01M540.2 217.4h.01M540.5 216.5h.01M540.9 215.9h.01M541.2 214.2h.01M541.6 214.3h.01M542.0 216.8h.01M542.3 217.0h.01M542.7 216.2h.01M543.0 214.5h.01M543.4 214.9h.01M543.7 217.6h.01M544.1 221.0h.01M544.5 211.9h.01M544.8 214.6h.01M545.2 216.1h.01M545.5 216.0h.01M545.9 218.0h.01M546.2 219.1h.01M546.6 217.7h.01M547.0 217.5h.01M547.3 218.4h.01M547.7 220.3h.01M548.0 217.9h.01M548.4 216.0h.01M548.7 218.4h.01M549.1 217.3h.01M549.5 221.9h.01M549.8 217.9h.01M550.2 217.8h.01M550.5 220.2h.01M550.9 221.4h.01M551.3 216.8h.01M551.6 219.5h.01M552.0 216.7h.01M552.3 218.7h.01M552.7 216.5h.01M553.0 218.7h.01M553.4 221.3h.01M553.8 218.2h.01M554.1 218.8h.01M554.5 216.7h.01M554.8 219.2h.01M555.2 219.1h.01M555.5 216.4h.01M555.9 215.8h.01M556.3 216.7h.01M556.6 216.1h.01M557.0 217.5h.01M557.3 216.8h.01M557.7 216.6h.01M558.0 217.7h.01M558.4 218.5h.01M558.8 218.4h.01M559.1 213.5h.01M559.5 218.7h.01M559.8 219.3h.01M560.2 219.6h.01M560.5 218.9h.01M560.9 218.4h.01M561.3 221.4h.01M561.6 223.3h.01M562.0 218.4h.01M562.3 222.6h.01M562.7 218.5h.01M563.1 218.8h.01M563.4 216.7h.01M563.8 215.6h.01M564.1 218.5h.01M564.5 220.5h.01M564.8 221.9h.01M565.2 221.1h.01M565.6 219.3h.01M565.9 223.9h.01M566.3 219.3h.01M566.6 219.5h.01M567.0 218.1h.01M567.3 220.3h.01M567.7 219.4h.01M568.1 221.2h.01M568.4 220.7h.01M568.8 223.6h.01M569.1 219.5h.01M569.5 216.4h.01M569.8 219.4h.01M570.2 219.0h.01M570.6 222.0h.01M570.9 216.8h.01M571.3 221.6h.01M571.6 218.2h.01M572.0 219.7h.01M572.3 222.1h.01M572.7 217.8h.01M573.1 220.0h.01M573.4 219.7h.01M573.8 219.1h.01M574.1 220.2h.01M574.5 221.0h.01M574.9 219.2h.01M575.2 221.1h.01M575.6 220.1h.01M575.9 221.7h.01M576.3 223.6h.01M576.6 221.8h.01M577.0 221.4h.01M577.4 220.3h.01M577.7 217.8h.01M578.1 224.1h.01M578.4 220.2h.01M578.8 225.3h.01M579.1 222.8h.01M579.5 221.6h.01M579.9 225.5h.01M580.2 224.6h.01M580.6 220.3h.01M580.9 220.4h.01M581.3 220.9h.01M581.6 222.4h.01M582.0 216.0h.01M582.4 221.1h.01M582.7 222.6h.01M583.1 217.1h.01M583.4 219.4h.01M583.8 221.6h.01M584.1 218.2h.01M584.5 220.5h.01M584.9 219.5h.01M585.2 220.4h.01M585.6 223.1h.01M585.9 218.8h.01M586.3 220.6h.01M586.7 223.2h.01M587.0 222.6h.01M587.4 218.9h.01M587.7 221.8h.01M588.1 220.9h.01M588.4 219.6h.01M588.8 220.8h.01M589.2 224.4h.01M589.5 219.7h.01M589.9 219.1h.01M590.2 219.2h.01M590.6 217.6h.01M590.9 220.4h.01M591.3 219.5h.01M591.7 217.7h.01M592.0 221.9h.01M592.4 217.4h.01M592.7 217.5h.01M593.1 219.6h.01M593.4 217.3h.01M593.8 219.4h.01M594.2 223.2h.01M594.5 218.9h.01M594.9 220.6h.01M595.2 220.5h.01M595.6 221.0h.01M595.9 218.4h.01M596.3 220.2h.01M596.7 222.9h.01M597.0 220.4h.01M597.4 219.9h.01M597.7 223.0h.01M598.1 222.4h.01M598.5 222.3h.01M598.8 222.8h.01M599.2 220.8h.01M599.5 219.3h.01M599.9 217.4h.01M600.2 219.0h.01M600.6 219.3h.01M601.0 219.1h.01M601.3 218.7h.01M601.7 222.4h.01M602.0 220.1h.01M602.4 220.9h.01M602.7 221.9h.01M603.1 222.7h.01M603.5 222.8h.01M603.8 222.3h.01M604.2 224.4h.01M604.5 220.6h.01M604.9 221.8h.01M605.2 221.5h.01M605.6 221.0h.01M606.0 220.2h.01M606.3 223.1h.01M606.7 222.0h.01M607.0 225.3h.01M607.4 226.6h.01M607.7 226.0h.01M608.1 218.5h.01M608.5 225.8h.01M608.8 220.8h.01M609.2 218.6h.01M609.5 222.9h.01M609.9 218.3h.01M610.3 217.9h.01M610.6 219.8h.01M611.0 216.7h.01M611.3 220.6h.01M611.7 223.5h.01M612.0 220.8h.01M612.4 222.9h.01M612.8 224.8h.01M613.1 224.7h.01M613.5 216.9h.01M613.8 223.1h.01M614.2 222.0h.01M614.5 223.4h.01M614.9 221.7h.01M615.3 222.5h.01M615.6 222.9h.01M616.0 224.6h.01M616.3 225.1h.01M616.7 223.6h.01M617.0 221.4h.01M617.4 217.5h.01M617.8 219.7h.01M618.1 218.1h.01M618.5 221.0h.01M618.8 222.2h.01M619.2 225.0h.01M619.5 222.1h.01M619.9 226.8h.01M620.3 222.7h.01M620.6 218.5h.01M621.0 221.4h.01M621.3 219.6h.01M621.7 222.9h.01M622.0 225.1h.01M622.4 223.2h.01M622.8 223.0h.01M623.1 219.5h.01M623.5 217.8h.01M623.8 223.8h.01M624.2 222.9h.01M624.6 222.5h.01M624.9 222.9h.01M625.3 224.9h.01M625.6 222.0h.01M626.0 221.4h.01M626.3 221.3h.01M626.7 224.8h.01M627.1 222.4h.01M627.4 226.0h.01M627.8 220.2h.01M628.1 224.4h.01M628.5 222.8h.01M628.8 223.2h.01M629.2 223.5h.01M629.6 224.5h.01M629.9 226.1h.01M630.3 218.5h.01M630.6 221.7h.01M631.0 221.7h.01M631.3 217.7h.01M631.7 222.5h.01M632.1 221.1h.01M632.4 222.2h.01M632.8 219.7h.01M633.1 221.2h.01M633.5 221.6h.01M633.8 222.8h.01M634.2 221.7h.01M634.6 219.8h.01M634.9 226.8h.01M635.3 222.6h.01M635.6 223.2h.01M636.0 223.0h.01M636.4 226.6h.01M636.7 220.7h.01M637.1 224.2h.01M637.4 222.8h.01M637.8 223.4h.01M638.1 226.0h.01M638.5 223.3h.01M638.9 226.4h.01M639.2 224.4h.01M639.6 223.0h.01M639.9 222.4h.01M640.3 222.2h.01M640.6 222.7h.01M641.0 217.7h.01M641.4 221.4h.01M641.7 225.0h.01M642.1 223.7h.01M642.4 223.8h.01M642.8 222.8h.01M643.1 223.7h.01M643.5 224.3h.01M643.9 218.8h.01M644.2 222.3h.01M644.6 223.1h.01M644.9 223.0h.01M645.3 222.9h.01M645.6 219.4h.01M646.0 221.4h.01M646.4 220.0h.01M646.7 229.2h.01M647.1 221.7h.01M647.4 220.1h.01M647.8 218.1h.01M648.2 222.4h.01M648.5 226.2h.01M648.9 221.2h.01M649.2 223.8h.01M649.6 226.4h.01M649.9 223.8h.01M650.3 220.2h.01M650.7 219.8h.01M651.0 220.9h.01M651.4 224.8h.01M651.7 217.0h.01M652.1 225.0h.01M652.4 222.7h.01M652.8 225.6h.01M653.2 219.6h.01M653.5 221.5h.01M653.9 220.6h.01M654.2 222.3h.01M654.6 222.6h.01M654.9 222.1h.01M655.3 226.6h.01M655.7 220.3h.01M656.0 220.5h.01M656.4 223.4h.01M656.7 222.5h.01M657.1 221.9h.01M657.4 219.1h.01M657.8 221.6h.01M658.2 222.4h.01M658.5 223.6h.01M658.9 225.8h.01M659.2 223.8h.01M659.6 222.4h.01M660.0 223.1h.01M660.3 222.4h.01M660.7 220.9h.01M661.0 221.6h.01M661.4 221.9h.01M661.7 221.1h.01M662.1 222.1h.01M662.5 222.6h.01M662.8 221.5h.01M663.2 226.3h.01M663.5 219.8h.01M663.9 225.4h.01M664.2 220.7h.01M664.6 222.5h.01M665.0 220.1h.01M665.3 222.5h.01M665.7 224.6h.01M666.0 220.2h.01M666.4 222.1h.01M666.7 222.3h.01M667.1 222.4h.01M667.5 220.4h.01M667.8 220.8h.01M668.2 222.1h.01M668.5 225.9h.01M668.9 223.4h.01M669.2 222.3h.01M669.6 218.6h.01M670.0 221.7h.01M670.3 222.8h.01M670.7 220.0h.01M671.0 222.8h.01M671.4 222.6h.01M671.8 222.2h.01M672.1 225.8h.01M672.5 220.5h.01M672.8 221.6h.01M673.2 223.2h.01M673.5 225.1h.01M673.9 222.1h.01M674.3 219.5h.01M674.6 224.0h.01M675.0 224.9h.01M675.3 221.7h.01M675.7 226.1h.01M676.0 227.4h.01M676.4 223.6h.01M676.8 224.1h.01M677.1 223.2h.01M677.5 223.8h.01M677.8 221.9h.01M678.2 223.1h.01M678.5 223.9h.01M678.9 223.6h.01M679.3 221.2h.01M679.6 220.5h.01M680.0 220.6h.01M680.3 221.1h.01M680.7 229.8h.01M681.0 224.8h.01M681.4 223.3h.01M681.8 222.2h.01M682.1 226.1h.01M682.5 219.5h.01M682.8 221.9h.01M683.2 224.0h.01M683.6 222.2h.01M683.9 223.4h.01M684.3 224.3h.01M684.6 221.5h.01M685.0 223.6h.01M685.3 225.7h.01M685.7 224.0h.01M686.1 222.9h.01M686.4 225.0h.01M686.8 219.9h.01M687.1 225.0h.01M687.5 218.8h.01M687.8 220.7h.01M688.2 224.7h.01M688.6 222.3h.01M688.9 220.0h.01M689.3 223.0h.01M689.6 225.2h.01M690.0 222.4h.01M690.3 218.3h.01M690.7 225.9h.01M691.1 221.4h.01M691.4 222.6h.01M691.8 222.9h.01M692.1 223.5h.01M692.5 223.3h.01M692.8 220.4h.01M693.2 221.3h.01M693.6 224.8h.01" fill="none" stroke="#50ff00" stroke-width="1.25" stroke-linecap="round" opacity="1"/>
<path d="M425.6 41.1L426.3 44.9L427.1 48.7L427.8 52.3L428.6 55.9L429.3 59.4L430.1 62.8L430.8 66.2L431.6 69.5L432.3 72.7L433.1 75.8L433.8 78.9L434.6 81.9L435.3 84.9L436.1 87.8L436.8 90.6L437.6 93.4L438.3 96.1L439.1 98.8L439.8 101.4L440.6 103.9L441.3 106.4L442.1 108.8L442.8 111.2L443.6 113.6L444.3 115.9L445.1 118.1L445.8 120.3L446.6 122.4L447.3 124.6L448.1 126.6L448.8 128.6L449.6 130.6L450.3 132.5L451.0 134.4L451.8 136.3L452.5 138.1L453.3 139.9L454.0 141.6L454.8 143.3L455.5 145.0L456.3 146.6L457.0 148.2L457.8 149.8L458.5 151.3L459.3 152.8L460.0 154.3L460.8 155.7L461.5 157.1L462.3 158.5L463.0 159.9L463.8 161.2L464.5 162.5L465.3 163.7L466.0 165.0L466.8 166.2L467.5 167.4L468.3 168.5L469.0 169.7L469.8 170.8L470.5 171.9L471.3 173.0L472.0 174.0L472.8 175.0L473.5 176.0L474.3 177.0L475.0 178.0L475.7 178.9L476.5 179.8L477.2 180.7L478.0 181.6L478.7 182.5L479.5 183.3L480.2 184.2L481.0 185.0L481.7 185.8L482.5 186.5L483.2 187.3L484.0 188.0L484.7 188.8L485.5 189.5L486.2 190.2L487.0 190.9L487.7 191.5L488.5 192.2L489.2 192.8L490.0 193.5L490.7 194.1L491.5 194.7L492.2 195.3L493.0 195.9L493.7 196.4L494.5 197.0L495.2 197.5L496.0 198.1L496.7 198.6L497.5 199.1L498.2 199.6L499.0 200.1L499.7 200.5L500.4 201.0L501.2 201.5L501.9 201.9L502.7 202.4L503.4 202.8L504.2 203.2L504.9 203.6L505.7 204.0L506.4 204.4L507.2 204.8L507.9 205.2L508.7 205.6L509.4 205.9L510.2 206.3L510.9 206.6L511.7 207.0L512.4 207.3L513.2 207.6L513.9 207.9L514.7 208.3L515.4 208.6L516.2 208.9L516.9 209.2L517.7 209.4L518.4 209.7L519.2 210.0L519.9 210.3L520.7 210.5L521.4 210.8L522.2 211.0L522.9 211.3L523.7 211.5L524.4 211.8L525.1 212.0L525.9 212.2L526.6 212.5L527.4 212.7L528.1 212.9L528.9 213.1L529.6 213.3L530.4 213.5L531.1 213.7L531.9 213.9L532.6 214.1L533.4 214.3L534.1 214.4L534.9 214.6L535.6 214.8L536.4 215.0L537.1 215.1L537.9 215.3L538.6 215.4L539.4 215.6L540.1 215.7L540.9 215.9L541.6 216.0L542.4 216.2L543.1 216.3L543.9 216.5L544.6 216.6L545.4 216.7L546.1 216.9L546.9 217.0L547.6 217.1L548.4 217.2L549.1 217.3L549.8 217.5L550.6 217.6L551.3 217.7L552.1 217.8L552.8 217.9L553.6 218.0L554.3 218.1L555.1 218.2L555.8 218.3L556.6 218.4L557.3 218.5L558.1 218.6L558.8 218.7L559.6 218.8L560.3 218.8L561.1 218.9L561.8 219.0L562.6 219.1L563.3 219.2L564.1 219.2L564.8 219.3L565.6 219.4L566.3 219.5L567.1 219.5L567.8 219.6L568.6 219.7L569.3 219.7L570.1 219.8L570.8 219.9L571.6 219.9L572.3 220.0L573.1 220.1L573.8 220.1L574.6 220.2L575.3 220.2L576.0 220.3L576.8 220.3L577.5 220.4L578.3 220.4L579.0 220.5L579.8 220.5L580.5 220.6L581.3 220.6L582.0 220.7L582.8 220.7L583.5 220.8L584.3 220.8L585.0 220.9L585.8 220.9L586.5 220.9L587.3 221.0L588.0 221.0L588.8 221.1L589.5 221.1L590.3 221.1L591.0 221.2L591.8 221.2L592.5 221.2L593.3 221.3L594.0 221.3L594.8 221.3L595.5 221.4L596.3 221.4L597.0 221.4L597.8 221.5L598.5 221.5L599.3 221.5L600.0 221.6L600.7 221.6L601.5 221.6L602.2 221.6L603.0 221.7L603.7 221.7L604.5 221.7L605.2 221.7L606.0 221.8L606.7 221.8L607.5 221.8L608.2 221.8L609.0 221.8L609.7 221.9L610.5 221.9L611.2 221.9L612.0 221.9L612.7 221.9L613.5 222.0L614.2 222.0L615.0 222.0L615.7 222.0L616.5 222.0L617.2 222.1L618.0 222.1L618.7 222.1L619.5 222.1L620.2 222.1L621.0 222.1L621.7 222.2L622.5 222.2L623.2 222.2L624.0 222.2L624.7 222.2L625.4 222.2L626.2 222.2L626.9 222.2L627.7 222.3L628.4 222.3L629.2 222.3L629.9 222.3L630.7 222.3L631.4 222.3L632.2 222.3L632.9 222.3L633.7 222.4L634.4 222.4L635.2 222.4L635.9 222.4L636.7 222.4L637.4 222.4L638.2 222.4L638.9 222.4L639.7 222.4L640.4 222.4L641.2 222.4L641.9 222.5L642.7 222.5L643.4 222.5L644.2 222.5L644.9 222.5L645.7 222.5L646.4 222.5L647.2 222.5L647.9 222.5L648.7 222.5L649.4 222.5L650.1 222.5L650.9 222.5L651.6 222.6L652.4 222.6L653.1 222.6L653.9 222.6L654.6 222.6L655.4 222.6L656.1 222.6L656.9 222.6L657.6 222.6L658.4 222.6L659.1 222.6L659.9 222.6L660.6 222.6L661.4 222.6L662.1 222.6L662.9 222.6L663.6 222.6L664.4 222.6L665.1 222.6L665.9 222.7L666.6 222.7L667.4 222.7L668.1 222.7L668.9 222.7L669.6 222.7L670.4 222.7L671.1 222.7L671.9 222.7L672.6 222.7L673.4 222.7L674.1 222.7L674.8 222.7L675.6 222.7L676.3 222.7L677.1 222.7L677.8 222.7L678.6 222.7L679.3 222.7L680.1 222.7L680.8 222.7L681.6 222.7L682.3 222.7L683.1 222.7L683.8 222.7L684.6 222.7L685.3 222.7L686.1 222.7L686.8 222.7L687.6 222.7L688.3 222.7L689.1 222.8L689.8 222.8L690.6 222.8L691.3 222.8L692.1 222.8L692.8 222.8L693.6 222.8" fill="none" stroke="#44f000" stroke-width="1.5"/>
<path d="M425.7 35.7h.01M426.0 37.3h.01M426.3 37.3h.01M426.6 38.1h.01M426.9 38.4h.01M427.2 39.3h.01M427.5 39.7h.01M427.8 40.7h.01M428.1 41.0h.01M428.4 41.8h.01M428.7 41.8h.01M429.0 43.4h.01M429.3 43.4h.01M429.6 44.3h.01M429.9 45.0h.01M430.2 45.8h.01M430.5 46.1h.01M430.8 47.4h.01M431.1 47.9h.01M431.4 47.8h.01M431.7 49.2h.01M432.0 48.8h.01M432.3 50.0h.01M432.6 50.4h.01M432.9 51.1h.01M433.2 51.5h.01M433.5 52.4h.01M433.8 53.0h.01M434.1 53.5h.01M434.4 53.7h.01M434.7 54.2h.01M435.0 54.8h.01M435.3 55.7h.01M435.6 56.4h.01M435.9 57.5h.01M436.2 57.3h.01M436.5 57.8h.01M436.8 58.8h.01M437.1 59.0h.01M437.4 59.3h.01M437.7 60.3h.01M438.0 60.6h.01M438.3 61.4h.01M438.6 62.7h.01M438.9 62.8h.01M439.2 63.3h.01M439.5 63.5h.01M439.7 64.6h.01M440.0 65.0h.01M440.3 65.7h.01M440.6 65.9h.01M440.9 66.4h.01M441.2 66.6h.01M441.5 67.3h.01M441.8 68.0h.01M442.1 68.5h.01M442.4 69.1h.01M442.7 69.6h.01M443.0 69.6h.01M443.3 71.7h.01M443.6 71.3h.01M443.9 71.7h.01M444.2 71.9h.01M444.5 73.3h.01M444.8 73.2h.01M445.1 73.6h.01M445.4 74.6h.01M445.7 75.6h.01M446.0 75.6h.01M446.3 76.4h.01M446.6 76.2h.01M446.9 77.3h.01M447.2 76.8h.01M447.5 77.9h.01M447.8 78.8h.01M448.1 79.2h.01M448.4 79.9h.01M448.7 79.8h.01M449.0 79.9h.01M449.3 81.1h.01M449.6 81.1h.01M449.9 82.3h.01M450.2 82.3h.01M450.5 82.0h.01M450.8 84.0h.01M451.1 83.4h.01M451.4 83.9h.01M451.7 85.6h.01M452.0 85.9h.01M452.3 86.2h.01M452.6 85.9h.01M452.9 87.0h.01M453.2 87.3h.01M453.5 87.5h.01M453.8 88.2h.01M454.0 88.6h.01M454.3 89.3h.01M454.6 89.2h.01M454.9 90.4h.01M455.2 89.9h.01M455.5 91.1h.01M455.8 91.8h.01M456.1 91.7h.01M456.4 92.2h.01M456.7 93.6h.01M457.0 93.2h.01M457.3 94.3h.01M457.6 94.5h.01M457.9 94.3h.01M458.2 95.4h.01M458.5 95.4h.01M458.8 96.1h.01M459.1 95.6h.01M459.4 96.9h.01M459.7 97.8h.01M460.0 98.2h.01M460.3 98.5h.01M460.6 98.5h.01M460.9 99.0h.01M461.2 99.1h.01M461.5 99.8h.01M461.8 100.3h.01M462.1 100.6h.01M462.4 101.2h.01M462.7 101.5h.01M463.0 101.7h.01M463.3 102.1h.01M463.6 103.1h.01M463.9 104.0h.01M464.2 104.1h.01M464.5 104.0h.01M464.8 105.6h.01M465.1 105.2h.01M465.4 105.2h.01M465.7 106.0h.01M466.0 106.7h.01M466.3 105.8h.01M466.6 106.4h.01M466.9 107.5h.01M467.2 107.2h.01M467.5 107.6h.01M467.8 109.1h.01M468.1 107.8h.01M468.3 109.8h.01M468.6 109.9h.01M468.9 110.7h.01M469.2 110.6h.01M469.5 111.6h.01M469.8 111.4h.01M470.1 111.3h.01M470.4 112.1h.01M470.7 112.7h.01M471.0 112.2h.01M471.3 113.7h.01M471.6 113.3h.01M471.9 114.2h.01M472.2 114.4h.01M472.5 114.8h.01M472.8 115.2h.01M473.1 115.6h.01M473.4 116.3h.01M473.7 116.6h.01M474.0 116.5h.01M474.3 117.1h.01M474.6 118.0h.01M474.9 118.2h.01M475.2 118.5h.01M475.5 118.6h.01M475.8 118.9h.01M476.1 119.3h.01M476.4 120.0h.01M476.7 120.0h.01M477.0 121.0h.01M477.3 122.1h.01M477.6 121.1h.01M477.9 122.2h.01M478.2 122.3h.01M478.5 122.7h.01M478.8 122.2h.01M479.1 123.5h.01M479.4 123.1h.01M479.7 123.8h.01M480.0 124.5h.01M480.3 125.0h.01M480.6 124.4h.01M480.9 124.8h.01M481.2 125.0h.01M481.5 124.8h.01M481.8 125.9h.01M482.1 126.2h.01M482.3 126.7h.01M482.6 127.0h.01M482.9 127.5h.01M483.2 128.1h.01M483.5 127.1h.01M483.8 129.3h.01M484.1 128.6h.01M484.4 128.8h.01M484.7 129.3h.01M485.0 130.2h.01M485.3 130.1h.01M485.6 130.6h.01M485.9 131.2h.01M486.2 131.0h.01M486.5 131.5h.01M486.8 131.9h.01M487.1 131.6h.01M487.4 132.8h.01M487.7 132.4h.01M488.0 133.2h.01M488.3 133.0h.01M488.6 133.5h.01M488.9 133.8h.01M489.2 134.7h.01M489.5 134.9h.01M489.8 135.2h.01M490.1 135.0h.01M490.4 135.1h.01M490.7 135.2h.01M491.0 136.3h.01M491.3 136.3h.01M491.6 137.5h.01M491.9 138.1h.01M492.2 137.7h.01M492.5 137.9h.01M492.8 138.7h.01M493.1 139.1h.01M493.4 138.2h.01M493.7 139.2h.01M494.0 139.9h.01M494.3 138.2h.01M494.6 139.6h.01M494.9 140.1h.01M495.2 139.9h.01M495.5 140.9h.01M495.8 140.0h.01M496.1 141.9h.01M496.4 142.1h.01M496.6 141.8h.01M496.9 142.4h.01M497.2 141.6h.01M497.5 143.4h.01M497.8 143.2h.01M498.1 143.0h.01M498.4 143.1h.01M498.7 143.2h.01M499.0 143.8h.01M499.3 143.1h.01M499.6 144.8h.01M499.9 144.7h.01M500.2 144.7h.01M500.5 145.5h.01M500.8 145.8h.01M501.1 146.2h.01M501.4 146.5h.01M501.7 147.1h.01M502.0 147.0h.01M502.3 147.8h.01M502.6 147.1h.01M502.9 148.4h.01M503.2 146.7h.01M503.5 147.2h.01M503.8 147.8h.01M504.1 148.7h.01M504.4 149.2h.01M504.7 148.5h.01M505.0 149.3h.01M505.3 149.4h.01M505.6 150.3h.01M505.9 149.6h.01M506.2 150.9h.01M506.5 150.7h.01M506.8 151.9h.01M507.1 151.6h.01M507.4 151.2h.01M507.7 152.0h.01M508.0 152.2h.01M508.3 151.8h.01M508.6 152.5h.01M508.9 152.1h.01M509.2 154.3h.01M509.5 152.9h.01M509.8 153.2h.01M510.1 154.6h.01M510.4 154.7h.01M510.7 153.7h.01M510.9 155.1h.01M511.2 155.1h.01M511.5 154.6h.01M511.8 155.4h.01M512.1 155.2h.01M512.4 156.2h.01M512.7 155.8h.01M513.0 155.6h.01M513.3 156.2h.01M513.6 157.9h.01M513.9 156.5h.01M514.2 157.1h.01M514.5 157.9h.01M514.8 156.8h.01M515.1 158.8h.01M515.4 157.0h.01M515.7 158.6h.01M516.0 157.6h.01M516.3 158.8h.01M516.6 159.7h.01M516.9 159.2h.01M517.2 159.2h.01M517.5 159.4h.01M517.8 159.3h.01M518.1 160.6h.01M518.4 160.1h.01M518.7 160.1h.01M519.0 160.9h.01M519.3 161.5h.01M519.6 161.8h.01M519.9 161.0h.01M520.2 161.2h.01M520.5 162.4h.01M520.8 162.9h.01M521.1 161.6h.01M521.4 163.5h.01M521.7 162.7h.01M522.0 163.4h.01M522.3 164.2h.01M522.6 163.3h.01M522.9 163.7h.01M523.2 163.0h.01M523.5 162.7h.01M523.8 164.4h.01M524.1 163.9h.01M524.4 164.1h.01M524.7 165.2h.01M524.9 165.6h.01M525.2 164.4h.01M525.5 165.7h.01M525.8 165.7h.01M526.1 166.1h.01M526.4 166.2h.01M526.7 166.7h.01M527.0 166.1h.01M527.3 166.0h.01M527.6 167.2h.01M527.9 168.0h.01M528.2 167.3h.01M528.5 168.4h.01M528.8 168.1h.01M529.1 167.2h.01M529.4 166.7h.01M529.7 168.1h.01M530.0 169.2h.01M530.3 168.3h.01M530.6 170.3h.01M530.9 169.5h.01M531.2 168.4h.01M531.5 169.1h.01M531.8 170.6h.01M532.1 170.9h.01M532.4 169.6h.01M532.7 170.3h.01M533.0 170.8h.01M533.3 170.4h.01M533.6 171.2h.01M533.9 172.2h.01M534.2 170.7h.01M534.5 171.8h.01M534.8 172.2h.01M535.1 172.6h.01M535.4 171.8h.01M535.7 172.7h.01M536.0 172.0h.01M536.3 172.7h.01M536.6 172.0h.01M536.9 173.1h.01M537.2 173.5h.01M537.5 174.5h.01M537.8 174.1h.01M538.1 173.2h.01M538.4 171.9h.01M538.7 174.8h.01M539.0 174.8h.01M539.2 174.1h.01M539.5 174.2h.01M539.8 175.1h.01M540.1 174.8h.01M540.4 176.0h.01M540.7 175.4h.01M541.0 174.8h.01M541.3 174.5h.01M541.6 175.8h.01M541.9 176.1h.01M542.2 175.8h.01M542.5 175.5h.01M542.8 176.1h.01M543.1 177.1h.01M543.4 176.5h.01M543.7 176.3h.01M544.0 177.5h.01M544.3 178.1h.01M544.6 177.1h.01M544.9 177.3h.01M545.2 177.1h.01M545.5 177.9h.01M545.8 178.5h.01M546.1 178.5h.01M546.4 179.1h.01M546.7 179.2h.01M547.0 179.1h.01M547.3 179.2h.01M547.6 178.3h.01M547.9 180.0h.01M548.2 179.4h.01M548.5 179.9h.01M548.8 178.7h.01M549.1 179.7h.01M549.4 180.2h.01M549.7 179.6h.01M550.0 180.3h.01M550.3 180.8h.01M550.6 179.6h.01M550.9 180.3h.01M551.2 179.8h.01M551.5 180.3h.01M551.8 180.7h.01M552.1 181.3h.01M552.4 182.3h.01M552.7 181.2h.01M553.0 181.8h.01M553.3 181.6h.01M553.5 182.2h.01M553.8 182.8h.01M554.1 183.1h.01M554.4 182.1h.01M554.7 181.9h.01M555.0 183.1h.01M555.3 182.7h.01M555.6 182.3h.01M555.9 183.9h.01M556.2 183.7h.01M556.5 184.4h.01M556.8 183.0h.01M557.1 183.7h.01M557.4 184.4h.01M557.7 185.3h.01M558.0 184.5h.01M558.3 183.8h.01M558.6 184.8h.01M558.9 185.1h.01M559.2 184.5h.01M559.5 185.9h.01M559.8 185.2h.01M560.1 184.9h.01M560.4 186.0h.01M560.7 186.2h.01M561.0 185.6h.01M561.3 186.0h.01M561.6 186.2h.01M561.9 186.0h.01M562.2 186.1h.01M562.5 187.1h.01M562.8 187.0h.01M563.1 186.4h.01M563.4 186.1h.01M563.7 186.0h.01M564.0 187.7h.01M564.3 186.5h.01M564.6 186.8h.01M564.9 187.5h.01M565.2 187.3h.01M565.5 187.2h.01M565.8 186.7h.01M566.1 188.8h.01M566.4 187.7h.01M566.7 188.4h.01M567.0 188.6h.01M567.3 187.7h.01M567.5 188.1h.01M567.8 189.5h.01M568.1 189.1h.01M568.4 188.9h.01M568.7 190.2h.01M569.0 188.7h.01M569.3 189.5h.01M569.6 189.4h.01M569.9 189.4h.01M570.2 188.5h.01M570.5 189.9h.01M570.8 190.3h.01M571.1 188.9h.01M571.4 190.7h.01M571.7 190.8h.01M572.0 191.5h.01M572.3 189.9h.01M572.6 190.6h.01M572.9 190.6h.01M573.2 190.9h.01M573.5 191.2h.01M573.8 191.8h.01M574.1 192.0h.01M574.4 191.2h.01M574.7 191.5h.01M575.0 190.6h.01M575.3 192.4h.01M575.6 192.3h.01M575.9 192.8h.01M576.2 191.2h.01M576.5 193.2h.01M576.8 191.9h.01M577.1 191.5h.01M577.4 192.8h.01M577.7 192.3h.01M578.0 194.5h.01M578.3 193.3h.01M578.6 194.3h.01M578.9 193.1h.01M579.2 193.3h.01M579.5 194.0h.01M579.8 192.9h.01M580.1 193.4h.01M580.4 194.2h.01M580.7 194.3h.01M581.0 195.1h.01M581.3 194.3h.01M581.6 192.7h.01M581.8 194.9h.01M582.1 194.1h.01M582.4 195.0h.01M582.7 194.1h.01M583.0 194.4h.01M583.3 195.1h.01M583.6 196.3h.01M583.9 195.5h.01M584.2 194.3h.01M584.5 195.5h.01M584.8 194.9h.01M585.1 195.9h.01M585.4 197.0h.01M585.7 195.4h.01M586.0 195.6h.01M586.3 196.4h.01M586.6 196.3h.01M586.9 195.9h.01M587.2 196.7h.01M587.5 196.1h.01M587.8 196.6h.01M588.1 198.3h.01M588.4 196.8h.01M588.7 197.2h.01M589.0 197.5h.01M589.3 196.6h.01M589.6 197.4h.01M589.9 196.7h.01M590.2 196.4h.01M590.5 197.2h.01M590.8 198.6h.01M591.1 198.1h.01M591.4 196.9h.01M591.7 197.9h.01M592.0 198.5h.01M592.3 198.0h.01M592.6 197.6h.01M592.9 197.9h.01M593.2 197.7h.01M593.5 199.0h.01M593.8 198.6h.01M594.1 198.7h.01M594.4 198.6h.01M594.7 200.3h.01M595.0 199.0h.01M595.3 199.9h.01M595.6 197.9h.01M595.9 197.9h.01M596.1 197.8h.01M596.4 198.6h.01M596.7 199.7h.01M597.0 198.7h.01M597.3 199.7h.01M597.6 199.1h.01M597.9 200.4h.01M598.2 200.3h.01M598.5 199.5h.01M598.8 198.6h.01M599.1 200.1h.01M599.4 198.4h.01M599.7 198.1h.01M600.0 201.3h.01M600.3 200.4h.01M600.6 201.3h.01M600.9 200.7h.01M601.2 201.1h.01M601.5 200.8h.01M601.8 200.1h.01M602.1 200.2h.01M602.4 200.8h.01M602.7 201.1h.01M603.0 201.1h.01M603.3 201.2h.01M603.6 200.9h.01M603.9 201.4h.01M604.2 201.1h.01M604.5 202.7h.01M604.8 201.1h.01M605.1 200.4h.01M605.4 201.7h.01M605.7 203.1h.01M606.0 200.9h.01M606.3 202.4h.01M606.6 204.6h.01M606.9 202.5h.01M607.2 201.9h.01M607.5 202.1h.01M607.8 201.5h.01M608.1 202.1h.01M608.4 202.6h.01M608.7 204.4h.01M609.0 203.8h.01M609.3 202.8h.01M609.6 202.5h.01M609.9 203.9h.01M610.1 203.7h.01M610.4 202.9h.01M610.7 204.9h.01M611.0 205.0h.01M611.3 203.7h.01M611.6 203.3h.01M611.9 204.0h.01M612.2 205.6h.01M612.5 203.8h.01M612.8 205.0h.01M613.1 203.4h.01M613.4 204.1h.01M613.7 203.9h.01M614.0 203.6h.01M614.3 204.7h.01M614.6 203.6h.01M614.9 203.4h.01M615.2 204.1h.01M615.5 203.4h.01M615.8 205.1h.01M616.1 203.9h.01M616.4 204.5h.01M616.7 205.7h.01M617.0 205.0h.01M617.3 205.4h.01M617.6 205.5h.01M617.9 205.1h.01M618.2 204.3h.01M618.5 205.5h.01M618.8 205.2h.01M619.1 206.6h.01M619.4 205.4h.01M619.7 204.6h.01M620.0 204.9h.01M620.3 205.3h.01M620.6 206.2h.01M620.9 206.7h.01M621.2 206.0h.01M621.5 207.1h.01M621.8 207.1h.01M622.1 205.3h.01M622.4 207.0h.01M622.7 204.7h.01M623.0 207.5h.01M623.3 206.0h.01M623.6 207.5h.01M623.9 206.4h.01M624.2 207.5h.01M624.4 206.6h.01M624.7 206.9h.01M625.0 207.2h.01M625.3 206.4h.01M625.6 205.6h.01M625.9 207.5h.01M626.2 206.3h.01M626.5 207.0h.01M626.8 207.2h.01M627.1 205.3h.01M627.4 209.2h.01M627.7 208.0h.01M628.0 209.0h.01M628.3 207.8h.01M628.6 207.8h.01M628.9 204.3h.01M629.2 207.4h.01M629.5 206.2h.01M629.8 206.7h.01M630.1 208.3h.01M630.4 207.5h.01M630.7 206.5h.01M631.0 207.9h.01M631.3 207.9h.01M631.6 207.8h.01M631.9 209.6h.01M632.2 209.0h.01M632.5 208.1h.01M632.8 208.0h.01M633.1 209.3h.01M633.4 208.8h.01M633.7 208.7h.01M634.0 208.8h.01M634.3 208.1h.01M634.6 208.7h.01M634.9 208.7h.01M635.2 210.2h.01M635.5 209.9h.01M635.8 208.8h.01M636.1 210.5h.01M636.4 208.9h.01M636.7 209.8h.01M637.0 210.0h.01M637.3 208.8h.01M637.6 210.0h.01M637.9 210.2h.01M638.2 210.1h.01M638.5 209.5h.01M638.7 207.2h.01M639.0 211.6h.01M639.3 209.7h.01M639.6 210.0h.01M639.9 209.0h.01M640.2 210.2h.01M640.5 212.2h.01M640.8 208.8h.01M641.1 211.1h.01M641.4 210.2h.01M641.7 211.4h.01M642.0 211.2h.01M642.3 210.7h.01M642.6 209.6h.01M642.9 209.6h.01M643.2 211.0h.01M643.5 210.1h.01M643.8 210.9h.01M644.1 210.5h.01M644.4 210.5h.01M644.7 210.2h.01M645.0 211.3h.01M645.3 210.9h.01M645.6 210.7h.01M645.9 210.9h.01M646.2 211.7h.01M646.5 209.5h.01M646.8 211.5h.01M647.1 210.5h.01M647.4 211.0h.01M647.7 210.1h.01M648.0 213.3h.01M648.3 209.5h.01M648.6 211.6h.01M648.9 212.6h.01M649.2 211.4h.01M649.5 209.5h.01M649.8 211.1h.01M650.1 212.8h.01M650.4 212.1h.01M650.7 210.5h.01M651.0 213.1h.01M651.3 212.0h.01M651.6 212.2h.01M651.9 210.0h.01M652.2 212.3h.01M652.5 210.8h.01M652.7 212.7h.01M653.0 212.9h.01M653.3 211.3h.01M653.6 211.7h.01M653.9 213.9h.01M654.2 211.8h.01M654.5 211.8h.01M654.8 213.0h.01M655.1 212.3h.01M655.4 212.3h.01M655.7 213.0h.01M656.0 213.2h.01M656.3 213.3h.01M656.6 213.0h.01M656.9 214.0h.01M657.2 212.8h.01M657.5 214.2h.01M657.8 212.8h.01M658.1 213.0h.01M658.4 213.9h.01M658.7 212.3h.01M659.0 211.3h.01M659.3 211.9h.01M659.6 214.4h.01M659.9 212.1h.01M660.2 213.1h.01M660.5 213.4h.01M660.8 213.9h.01M661.1 213.4h.01M661.4 212.2h.01M661.7 213.0h.01M662.0 213.9h.01M662.3 214.2h.01M662.6 214.0h.01M662.9 213.1h.01M663.2 212.0h.01M663.5 214.7h.01M663.8 213.8h.01M664.1 214.2h.01M664.4 214.6h.01M664.7 213.5h.01M665.0 213.5h.01M665.3 215.3h.01M665.6 215.0h.01M665.9 213.0h.01M666.2 213.8h.01M666.5 213.7h.01M666.8 214.7h.01M667.0 214.6h.01M667.3 213.9h.01M667.6 214.8h.01M667.9 215.4h.01M668.2 214.4h.01M668.5 213.6h.01M668.8 215.4h.01M669.1 213.6h.01M669.4 213.9h.01M669.7 215.4h.01M670.0 214.6h.01M670.3 214.7h.01M670.6 214.2h.01M670.9 214.2h.01M671.2 216.0h.01M671.5 216.1h.01M671.8 213.9h.01M672.1 214.8h.01M672.4 214.6h.01M672.7 214.7h.01M673.0 213.6h.01M673.3 216.2h.01M673.6 214.1h.01M673.9 215.9h.01M674.2 214.5h.01M674.5 214.0h.01M674.8 216.5h.01M675.1 214.9h.01M675.4 215.6h.01M675.7 215.6h.01M676.0 215.4h.01M676.3 216.4h.01M676.6 216.4h.01M676.9 214.9h.01M677.2 214.8h.01M677.5 216.1h.01M677.8 217.0h.01M678.1 213.6h.01M678.4 214.7h.01M678.7 215.4h.01M679.0 216.7h.01M679.3 216.3h.01M679.6 215.6h.01M679.9 216.8h.01M680.2 214.5h.01M680.5 215.8h.01M680.8 215.6h.01M681.0 217.0h.01M681.3 216.9h.01M681.6 216.8h.01M681.9 215.9h.01M682.2 216.4h.01M682.5 216.5h.01M682.8 216.0h.01M683.1 216.1h.01M683.4 215.0h.01M683.7 216.5h.01M684.0 217.3h.01M684.3 216.4h.01M684.6 215.1h.01M684.9 217.0h.01M685.2 216.5h.01M685.5 216.9h.01M685.8 216.2h.01M686.1 216.4h.01M686.4 217.4h.01M686.7 216.9h.01M687.0 215.9h.01M687.3 215.8h.01M687.6 215.9h.01M687.9 216.0h.01M688.2 217.1h.01M688.5 217.2h.01M688.8 216.1h.01M689.1 218.0h.01M689.4 217.0h.01M689.7 218.7h.01M690.0 217.4h.01M690.3 217.7h.01M690.6 218.2h.01M690.9 216.6h.01M691.2 217.8h.01M691.5 217.5h.01M691.8 217.4h.01M692.1 217.9h.01M692.4 216.0h.01M692.7 217.8h.01M693.0 217.2h.01M693.3 218.5h.01M693.6 217.8h.01" fill="none" stroke="#ff0000" stroke-width="1.2" stroke-linecap="round" opacity="1"/>
<path d="M425.6 35.9L426.3 37.5L427.1 39.1L427.8 40.7L428.6 42.3L429.3 43.9L430.1 45.4L430.8 46.9L431.6 48.5L432.3 50.0L433.1 51.5L433.8 53.0L434.6 54.5L435.3 55.9L436.1 57.4L436.8 58.8L437.6 60.2L438.3 61.6L439.1 63.0L439.8 64.4L440.6 65.8L441.3 67.2L442.1 68.5L442.8 69.9L443.6 71.2L444.3 72.5L445.1 73.8L445.8 75.1L446.6 76.4L447.3 77.7L448.1 79.0L448.8 80.2L449.6 81.5L450.3 82.7L451.0 83.9L451.8 85.1L452.5 86.3L453.3 87.5L454.0 88.7L454.8 89.9L455.5 91.0L456.3 92.2L457.0 93.3L457.8 94.5L458.5 95.6L459.3 96.7L460.0 97.8L460.8 98.9L461.5 100.0L462.3 101.0L463.0 102.1L463.8 103.2L464.5 104.2L465.3 105.3L466.0 106.3L466.8 107.3L467.5 108.3L468.3 109.3L469.0 110.3L469.8 111.3L470.5 112.3L471.3 113.3L472.0 114.2L472.8 115.2L473.5 116.1L474.3 117.1L475.0 118.0L475.7 118.9L476.5 119.8L477.2 120.7L478.0 121.6L478.7 122.5L479.5 123.4L480.2 124.3L481.0 125.1L481.7 126.0L482.5 126.9L483.2 127.7L484.0 128.5L484.7 129.4L485.5 130.2L486.2 131.0L487.0 131.8L487.7 132.6L488.5 133.4L489.2 134.2L490.0 135.0L490.7 135.8L491.5 136.5L492.2 137.3L493.0 138.1L493.7 138.8L494.5 139.6L495.2 140.3L496.0 141.0L496.7 141.8L497.5 142.5L498.2 143.2L499.0 143.9L499.7 144.6L500.4 145.3L501.2 146.0L501.9 146.7L502.7 147.3L503.4 148.0L504.2 148.7L504.9 149.3L505.7 150.0L506.4 150.7L507.2 151.3L507.9 151.9L508.7 152.6L509.4 153.2L510.2 153.8L510.9 154.4L511.7 155.0L512.4 155.7L513.2 156.3L513.9 156.8L514.7 157.4L515.4 158.0L516.2 158.6L516.9 159.2L517.7 159.8L518.4 160.3L519.2 160.9L519.9 161.4L520.7 162.0L521.4 162.5L522.2 163.1L522.9 163.6L523.7 164.2L524.4 164.7L525.1 165.2L525.9 165.7L526.6 166.2L527.4 166.8L528.1 167.3L528.9 167.8L529.6 168.3L530.4 168.8L531.1 169.2L531.9 169.7L532.6 170.2L533.4 170.7L534.1 171.2L534.9 171.6L535.6 172.1L536.4 172.6L537.1 173.0L537.9 173.5L538.6 173.9L539.4 174.4L540.1 174.8L540.9 175.2L541.6 175.7L542.4 176.1L543.1 176.5L543.9 177.0L544.6 177.4L545.4 177.8L546.1 178.2L546.9 178.6L547.6 179.0L548.4 179.4L549.1 179.8L549.8 180.2L550.6 180.6L551.3 181.0L552.1 181.4L552.8 181.8L553.6 182.1L554.3 182.5L555.1 182.9L555.8 183.3L556.6 183.6L557.3 184.0L558.1 184.4L558.8 184.7L559.6 185.1L560.3 185.4L561.1 185.8L561.8 186.1L562.6 186.5L563.3 186.8L564.1 187.1L564.8 187.5L565.6 187.8L566.3 188.1L567.1 188.4L567.8 188.8L568.6 189.1L569.3 189.4L570.1 189.7L570.8 190.0L571.6 190.3L572.3 190.6L573.1 190.9L573.8 191.2L574.6 191.5L575.3 191.8L576.0 192.1L576.8 192.4L577.5 192.7L578.3 193.0L579.0 193.3L579.8 193.6L580.5 193.8L581.3 194.1L582.0 194.4L582.8 194.7L583.5 194.9L584.3 195.2L585.0 195.5L585.8 195.7L586.5 196.0L587.3 196.2L588.0 196.5L588.8 196.8L589.5 197.0L590.3 197.3L591.0 197.5L591.8 197.7L592.5 198.0L593.3 198.2L594.0 198.5L594.8 198.7L595.5 198.9L596.3 199.2L597.0 199.4L597.8 199.6L598.5 199.9L599.3 200.1L600.0 200.3L600.7 200.5L601.5 200.8L602.2 201.0L603.0 201.2L603.7 201.4L604.5 201.6L605.2 201.8L606.0 202.0L606.7 202.2L607.5 202.4L608.2 202.6L609.0 202.8L609.7 203.0L610.5 203.2L611.2 203.4L612.0 203.6L612.7 203.8L613.5 204.0L614.2 204.2L615.0 204.4L615.7 204.6L616.5 204.8L617.2 204.9L618.0 205.1L618.7 205.3L619.5 205.5L620.2 205.7L621.0 205.8L621.7 206.0L622.5 206.2L623.2 206.4L624.0 206.5L624.7 206.7L625.4 206.9L626.2 207.0L626.9 207.2L627.7 207.4L628.4 207.5L629.2 207.7L629.9 207.8L630.7 208.0L631.4 208.1L632.2 208.3L632.9 208.5L633.7 208.6L634.4 208.8L635.2 208.9L635.9 209.1L636.7 209.2L637.4 209.3L638.2 209.5L638.9 209.6L639.7 209.8L640.4 209.9L641.2 210.1L641.9 210.2L642.7 210.3L643.4 210.5L644.2 210.6L644.9 210.7L645.7 210.9L646.4 211.0L647.2 211.1L647.9 211.3L648.7 211.4L649.4 211.5L650.1 211.6L650.9 211.8L651.6 211.9L652.4 212.0L653.1 212.1L653.9 212.3L654.6 212.4L655.4 212.5L656.1 212.6L656.9 212.7L657.6 212.8L658.4 213.0L659.1 213.1L659.9 213.2L660.6 213.3L661.4 213.4L662.1 213.5L662.9 213.6L663.6 213.7L664.4 213.8L665.1 213.9L665.9 214.0L666.6 214.2L667.4 214.3L668.1 214.4L668.9 214.5L669.6 214.6L670.4 214.7L671.1 214.8L671.9 214.9L672.6 215.0L673.4 215.1L674.1 215.1L674.8 215.2L675.6 215.3L676.3 215.4L677.1 215.5L677.8 215.6L678.6 215.7L679.3 215.8L680.1 215.9L680.8 216.0L681.6 216.1L682.3 216.1L683.1 216.2L683.8 216.3L684.6 216.4L685.3 216.5L686.1 216.6L686.8 216.7L687.6 216.7L688.3 216.8L689.1 216.9L689.8 217.0L690.6 217.1L691.3 217.1L692.1 217.2L692.8 217.3L693.6 217.4" fill="none" stroke="#ff0000" stroke-width="1.45"/>
<path d="M425.2 105.5h.01" stroke="#ff0000" stroke-width="1.1" stroke-linecap="round"/><path d="M425.2 111h.01" stroke="#000" stroke-width="1.1" stroke-linecap="round"/><path d="M425.2 116.8h.01" stroke="#44f000" stroke-width="1.1" stroke-linecap="round"/><path d="M425.2 190.2h.01M425.2 80h.01" stroke="#2a3cff" stroke-width="1.1" stroke-linecap="round"/>
<path d="M409.55 237.9H695" stroke="#3a3a3a" stroke-width="1.7"/>
<path d="M410.2 30.3V238.5M405.59999999999997 226.3H410.2M405.59999999999997 168.9H410.2M405.59999999999997 111.5H410.2M405.59999999999997 54.1H410.2M407.59999999999997 197.6H410.2M407.59999999999997 140.2H410.2M407.59999999999997 82.8H410.2M425.0 237.9v4.6M499.9 237.9v4.6M574.7 237.9v4.6M649.5 237.9v4.6M462.4 237.9v2.6M537.3 237.9v2.6M612.1 237.9v2.6M687.0 237.9v2.6" fill="none" stroke="#3a3a3a" stroke-width="1.3"/>
<text class="b" transform="translate(403.1 229.0) scale(.95 1)" font-size="10.5" text-anchor="end">0.00</text>
<text class="b" transform="translate(403.1 171.6) scale(.95 1)" font-size="10.5" text-anchor="end">0.01</text>
<text class="b" transform="translate(403.1 114.2) scale(.95 1)" font-size="10.5" text-anchor="end">0.02</text>
<text class="b" transform="translate(403.1 56.8) scale(.95 1)" font-size="10.5" text-anchor="end">0.03</text>
<text class="b" transform="translate(425.0 252.8) scale(.95 1)" font-size="10.5" text-anchor="middle">0</text>
<text class="b" transform="translate(499.9 252.8) scale(.95 1)" font-size="10.5" text-anchor="middle">50</text>
<text class="b" transform="translate(574.7 252.8) scale(.95 1)" font-size="10.5" text-anchor="middle">100</text>
<text class="b" transform="translate(649.5 252.8) scale(.95 1)" font-size="10.5" text-anchor="middle">150</text>
<text class="b" x="416.2" y="13.9" font-size="13.2">b)</text>
<text class="b" transform="translate(368.8 136.7) rotate(-90)" font-size="12.3" text-anchor="middle"><tspan class="i">A</tspan> ( <tspan font-size="9.4" dy="-5.4">3</tspan><tspan dy="5.4">NDS</tspan> <tspan font-size="9.4" dy="-5.4">2</tspan><tspan font-size="9.5" font-weight="normal" fill-opacity=".6"> −</tspan><tspan dy="5.4"> )</tspan></text>
<text y="272.6" font-size="12" class="b"><tspan class="i" x="539.5">t</tspan><tspan class="i" x="545.1">/</tspan><tspan class="sym" x="552.5" font-weight="normal" font-size="12.5" fill="#444">μ</tspan><tspan x="559.4">s</tspan></text>
</g>
<g id="inset">
<path d="M547.2 23.1H677.6A20 20 0 0 1 697.6 43.1V145.8A18 18 0 0 1 679.6 163.8H544.2A21 21 0 0 1 523.2 142.8V47.1A24 24 0 0 1 547.2 23.1Z" fill="#dfe6e2"/>
<path d="M547.8 32.7V135.9M547.3 135.4H691.4M544.4 134.8H547.8M544.4 122.1H547.8M544.4 109.4H547.8M544.4 96.7H547.8M544.4 84.0H547.8M544.4 71.3H547.8M544.4 58.6H547.8M544.4 45.9H547.8M544.4 33.2H547.8M545.9 128.5H547.8M545.9 115.8H547.8M545.9 103.1H547.8M545.9 90.4H547.8M545.9 77.7H547.8M545.9 65.0H547.8M545.9 52.3H547.8M545.9 39.6H547.8M547.8 135.4v3.6M599.2 135.4v3.6M650.7 135.4v3.6M573.5 135.4v2.2M625.0 135.4v2.2M676.4 135.4v2.2" fill="none" stroke="#111" stroke-width="1"/>
<path d="M547.8 134.8L691.9 38.8" stroke="#000" stroke-width="1.2"/>
<rect x="574.7" y="115.2" width="4.4" height="4.4" fill="#e8ecea" stroke="#000" stroke-width="0.8"/>
<rect x="614.0" y="83.6" width="4.4" height="4.4" fill="#e8ecea" stroke="#000" stroke-width="0.8"/>
<rect x="681.4" y="43.2" width="4.4" height="4.4" fill="#e8ecea" stroke="#000" stroke-width="0.8"/>
<text class="b" x="544" y="137.7" font-size="8" text-anchor="end">1</text>
<text class="b" x="544" y="125.0" font-size="8" text-anchor="end">2</text>
<text class="b" x="544" y="112.3" font-size="8" text-anchor="end">3</text>
<text class="b" x="544" y="99.6" font-size="8" text-anchor="end">4</text>
<text class="b" x="544" y="86.9" font-size="8" text-anchor="end">5</text>
<text class="b" x="544" y="74.2" font-size="8" text-anchor="end">6</text>
<text class="b" x="544" y="61.5" font-size="8" text-anchor="end">7</text>
<text class="b" x="544" y="48.8" font-size="8" text-anchor="end">8</text>
<text class="b" x="544" y="36.1" font-size="8" text-anchor="end">9</text>
<text class="b" x="547.5" y="144.2" font-size="7.9" text-anchor="middle">0.000</text>
<text class="b" x="599.0" y="144.2" font-size="7.9" text-anchor="middle">0.001</text>
<text class="b" x="650.4" y="144.2" font-size="7.9" text-anchor="middle">0.002</text>
<text class="b" x="591.3" y="157.8" font-size="10">[ HAsc<tspan font-size="7" dy="-3.5">−</tspan><tspan dy="3.5"> ] / M</tspan></text>
<text class="b" x="616" y="110.3" font-size="9"><tspan class="i">K</tspan><tspan x="622.2" y="113.9" font-size="5.6">SV</tspan><tspan x="630.9" y="110.3">= 2700 M</tspan><tspan font-size="4.8" dx="0.5" dy="-5.6">-1</tspan></text>
<text class="sym i" transform="translate(534.6 97.3) rotate(-90)" font-size="11"><tspan x="0" y="0">τ</tspan><tspan x="5.0" y="1.8" font-size="7" class="b" style="font-family:'Liberation Sans',sans-serif;font-style:normal">0</tspan><tspan x="10.4" y="0" font-size="9.5" style="font-family:'Liberation Sans',sans-serif" class="b">/</tspan><tspan x="17.4" y="0">τ</tspan></text>
</g>
</svg>
</body></html>
